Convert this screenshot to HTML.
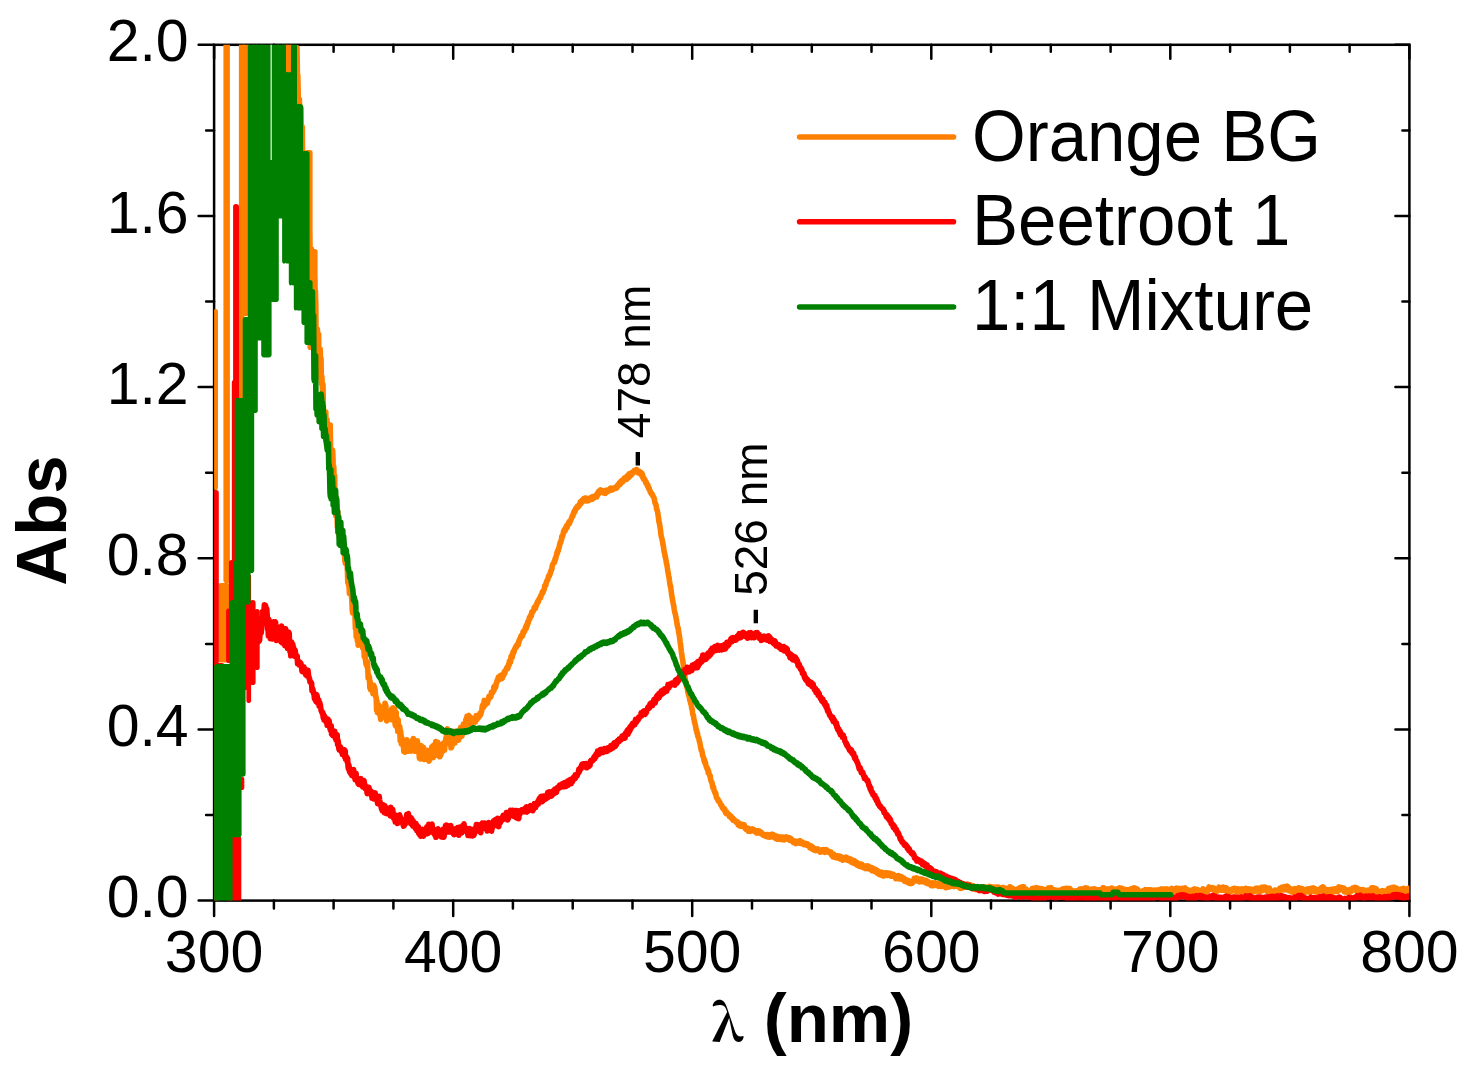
<!DOCTYPE html>
<html><head><meta charset="utf-8"><style>
html,body{margin:0;padding:0;background:#fff;width:1466px;height:1075px;overflow:hidden}
svg{display:block}
text{font-family:"Liberation Sans",Arial,sans-serif;fill:#000}
</style></head><body>
<svg width="1466" height="1075" viewBox="0 0 1466 1075">
<defs><clipPath id="pa"><rect x="214.1" y="44.8" width="1195.3" height="855.8"/></clipPath></defs>
<rect x="214.1" y="44.8" width="1195.3" height="855.8" fill="none" stroke="#000" stroke-width="2.5"/><path d="M214.1,900.6V916.1M214.1,44.8V58.8M273.9,900.6V908.6M273.9,44.8V51.8M333.6,900.6V908.6M333.6,44.8V51.8M393.4,900.6V908.6M393.4,44.8V51.8M453.2,900.6V916.1M453.2,44.8V58.8M512.9,900.6V908.6M512.9,44.8V51.8M572.7,900.6V908.6M572.7,44.8V51.8M632.5,900.6V908.6M632.5,44.8V51.8M692.2,900.6V916.1M692.2,44.8V58.8M752.0,900.6V908.6M752.0,44.8V51.8M811.8,900.6V908.6M811.8,44.8V51.8M871.5,900.6V908.6M871.5,44.8V51.8M931.3,900.6V916.1M931.3,44.8V58.8M991.0,900.6V908.6M991.0,44.8V51.8M1050.8,900.6V908.6M1050.8,44.8V51.8M1110.6,900.6V908.6M1110.6,44.8V51.8M1170.3,900.6V916.1M1170.3,44.8V58.8M1230.1,900.6V908.6M1230.1,44.8V51.8M1289.9,900.6V908.6M1289.9,44.8V51.8M1349.6,900.6V908.6M1349.6,44.8V51.8M1409.4,900.6V916.1M1409.4,44.8V58.8M214.1,900.6H198.6M1409.4,900.6H1395.4M214.1,815.0H206.1M1409.4,815.0H1402.4M214.1,729.4H198.6M1409.4,729.4H1395.4M214.1,643.9H206.1M1409.4,643.9H1402.4M214.1,558.3H198.6M1409.4,558.3H1395.4M214.1,472.7H206.1M1409.4,472.7H1402.4M214.1,387.1H198.6M1409.4,387.1H1395.4M214.1,301.5H206.1M1409.4,301.5H1402.4M214.1,216.0H198.6M1409.4,216.0H1395.4M214.1,130.4H206.1M1409.4,130.4H1402.4M214.1,44.8H198.6M1409.4,44.8H1395.4" stroke="#000" stroke-width="2.5" stroke-linecap="round" fill="none"/>
<g clip-path="url(#pa)" fill="none" stroke-width="5.6" stroke-linejoin="round" stroke-linecap="round">
<rect x="213.1" y="309.0" width="4.9" height="181.0" rx="2.8" fill="#FF8000" stroke="none"/><rect x="223.4" y="30.0" width="6.5" height="553.0" rx="2.8" fill="#FF8000" stroke="none"/><rect x="218.4" y="583.0" width="11.5" height="79.5" rx="2.8" fill="#FF8000" stroke="none"/><rect x="238.9" y="30.0" width="5.7" height="405.0" rx="2.8" fill="#FF8000" stroke="none"/><rect x="242.9" y="30.0" width="6.3" height="286.0" rx="2.8" fill="#FF8000" stroke="none"/><rect x="284.3" y="30.0" width="7.9" height="48.0" rx="2.8" fill="#FF8000" stroke="none"/><rect x="296.4" y="100.0" width="4.7" height="29.0" rx="2.8" fill="#FF8000" stroke="none"/><rect x="299.4" y="125.0" width="5.7" height="49.0" rx="2.8" fill="#FF8000" stroke="none"/><rect x="304.4" y="150.0" width="8.2" height="110.0" rx="2.8" fill="#FF8000" stroke="none"/><rect x="307.4" y="249.0" width="10.2" height="101.0" rx="2.8" fill="#FF8000" stroke="none"/>
<path d="M297.0 47.8 297.4 73.5 297.8 75.4 298.2 93.4 298.6 117.8 299.0 113.5 299.4 99.3 299.8 118.2 300.2 116.2 300.6 142.2 301.0 108.3 301.4 145.6 301.8 125.6 302.2 128.8 302.6 168.0 303.0 162.2 303.4 156.2 303.8 156.7 304.2 190.4 304.6 196.7 305.0 181.5 305.4 203.5 305.8 166.4 306.2 211.9 306.6 172.1 307.0 187.8 307.4 214.3 307.8 234.8 308.2 199.7 308.6 225.7 309.0 256.9 309.4 234.5 309.8 260.1 310.2 262.7 310.6 250.9 311.0 273.2 311.4 249.0 311.8 264.7 312.2 290.1 312.6 271.9 313.0 297.2 313.4 278.2 313.8 282.1 314.2 277.9 314.6 279.9 315.0 315.1 315.4 291.0 315.8 305.0 316.2 347.7 316.6 329.7 317.0 355.9 317.4 329.3 317.8 342.5 318.2 363.4 318.6 334.3 319.0 363.0 319.4 377.1 319.8 375.6 320.2 349.0 320.6 361.1 321.0 358.0 321.4 383.6 321.8 375.8 322.2 385.2 322.6 393.7 323.0 384.5 323.4 413.5 323.8 424.5 324.2 430.1 324.6 422.4 325.0 413.6 325.4 412.7 325.8 411.9 326.2 442.7 326.6 445.6 327.0 419.8 327.4 442.4 327.8 428.5 328.2 424.7 328.6 436.8 329.0 445.7 329.4 442.9 329.8 434.8 330.2 425.0 330.6 450.8 331.0 461.7 331.4 457.6 331.8 466.7 332.2 454.9 332.6 450.1 333.0 458.3 333.4 485.4 333.8 466.8 334.2 492.8 334.6 475.5 335.0 501.2 335.4 493.6 335.8 515.8 336.2 511.1 336.6 510.5 337.0 513.4 337.4 526.9 337.8 511.7 338.2 523.9 338.6 533.9 339.0 534.1 339.4 536.7 339.8 533.5 340.2 542.7 340.6 528.0 341.0 543.6 341.4 545.2 341.8 535.3 342.2 537.4 342.6 537.0 343.0 540.0 343.4 546.7 343.8 544.5 344.2 549.3 344.6 556.6 345.0 561.4 345.4 563.3 345.8 560.2 346.2 558.8 346.6 562.2 347.0 563.7 347.4 570.6 347.8 582.5 348.2 571.6 348.6 584.8 349.0 584.3 349.4 593.5 349.8 591.5 350.2 590.2 350.6 590.6 351.0 592.4 351.4 595.8 351.8 599.1 352.2 609.2 352.6 612.9 353.0 601.4 353.4 601.5 353.8 610.0 354.2 612.1 354.6 613.8 355.0 616.1 355.4 628.3 355.8 621.7 356.2 636.6 356.6 634.1 357.0 632.3 357.4 640.9 357.8 636.8 358.2 645.2 358.6 634.5 359.0 641.8 359.4 644.1 359.8 637.2 360.2 634.2 360.6 628.3 361.0 642.9 361.4 629.1 361.8 633.5 362.2 643.7 362.6 647.8 363.0 648.4 363.4 637.8 363.8 639.9 364.2 656.8 364.6 657.2 365.0 654.2 365.4 658.6 365.8 662.5 366.2 664.9 366.6 663.4 367.0 666.6 367.4 661.7 367.8 669.0 368.2 678.1 368.6 674.8 369.0 676.6 369.4 676.9 369.8 687.7 370.2 681.4 370.6 689.7 371.0 686.1 371.4 686.3 371.8 688.3 372.2 691.2 372.6 685.3 373.0 693.7 373.4 686.7 373.8 685.3 374.2 693.1 374.6 687.0 375.0 689.3 375.4 693.6 375.8 697.1 376.2 697.2 376.6 710.2 377.0 700.9 377.4 712.5 377.8 711.5 378.2 707.9 378.6 704.8 379.0 706.4 379.4 714.2 379.8 713.0 380.2 713.7 380.6 719.4 381.0 717.4 381.4 715.3 381.8 715.9 382.2 714.1 382.6 707.1 383.0 710.3 383.4 715.1 383.8 714.5 384.2 716.8 384.6 715.2 385.0 703.2 385.4 712.2 385.8 705.0 386.2 717.6 386.6 721.0 387.0 716.2 387.4 713.6 387.8 715.6 388.2 710.9 388.6 715.5 389.0 718.6 389.4 717.6 389.8 717.0 390.2 711.2 390.6 714.3 391.0 710.8 391.4 719.6 391.8 708.7 392.2 713.2 392.6 713.3 393.0 707.8 393.4 719.1 393.8 711.2 394.2 718.2 394.6 709.1 395.0 723.5 395.4 725.3 395.8 726.2 396.2 712.6 396.6 726.3 397.0 726.3 397.4 718.9 397.8 731.5 398.2 720.0 398.6 731.3 399.0 729.7 399.4 733.0 399.8 726.5 400.2 740.6 400.6 730.7 401.0 734.8 401.4 743.8 401.8 737.5 402.2 739.6 402.6 739.9 403.0 743.2 403.4 745.4 403.8 751.2 404.2 749.1 404.6 745.3 405.0 752.2 405.4 743.1 405.8 744.1 406.2 745.3 406.6 751.0 407.0 739.9 407.4 746.1 407.8 749.7 408.2 751.2 408.6 749.7 409.0 743.1 409.4 745.4 409.8 743.3 410.2 743.1 410.6 746.2 411.0 751.1 411.4 750.4 411.8 745.6 412.2 740.6 412.6 743.6 413.0 750.8 413.4 738.6 413.8 739.8 414.2 749.5 414.6 744.7 415.0 745.3 415.4 751.2 415.8 750.3 416.2 743.3 416.6 743.3 417.0 749.5 417.4 740.8 417.8 749.1 418.2 752.1 418.6 746.4 419.0 753.0 419.4 758.2 419.8 756.1 420.2 754.4 420.6 758.9 421.0 747.5 421.4 745.7 421.8 756.7 422.2 752.0 422.6 749.7 423.0 758.9 423.4 747.2 423.8 752.3 424.2 751.4 424.6 759.5 425.0 752.1 425.4 753.1 425.8 750.1 426.2 752.9 426.6 755.8 427.0 758.3 427.4 750.8 427.8 750.6 428.2 755.6 428.6 759.8 429.0 761.1 429.4 759.7 429.8 757.8 430.2 756.2 430.6 753.1 431.0 749.9 431.4 751.0 431.8 746.7 432.2 754.7 432.6 746.2 433.0 757.8 433.4 756.0 433.8 745.0 434.2 756.1 434.6 747.0 435.0 755.4 435.4 755.4 435.8 741.5 436.2 753.1 436.6 754.8 437.0 753.7 437.4 747.2 437.8 742.4 438.2 750.3 438.6 752.2 439.0 753.4 439.4 748.4 439.8 756.8 440.2 747.7 440.6 755.4 441.0 754.4 441.4 749.0 441.8 744.9 442.2 751.8 442.6 744.3 443.0 747.7 443.4 743.0 443.8 744.0 444.2 744.0 444.6 750.2 445.0 742.3 445.4 742.7 445.8 738.8 446.2 737.0 446.6 738.9 447.0 735.7 447.4 728.7 447.8 738.7 448.2 740.8 448.6 734.6 449.0 736.1 449.4 733.8 449.8 733.6 450.2 744.3 450.6 735.1 451.0 747.8 451.4 735.6 451.8 746.8 452.2 741.6 452.6 735.1 453.0 734.2 453.4 731.3 453.8 739.9 454.2 739.1 454.6 739.1 455.0 742.9 455.4 731.2 455.8 738.5 456.2 735.2 456.6 735.9 457.0 735.0 457.4 736.5 457.8 738.4 458.2 734.1 458.6 740.2 459.0 738.2 459.4 734.6 459.8 737.5 460.2 730.7 460.6 727.6 461.0 729.5 461.4 735.5 461.8 736.1 462.2 735.1 462.6 732.5 463.0 726.7 463.4 724.2 463.8 731.0 464.2 728.9 464.6 730.3 465.0 729.3 465.4 727.9 465.8 719.9 466.2 726.1 466.6 718.3 467.0 716.3 467.4 716.7 467.8 720.1 468.2 718.7 468.6 716.5 469.0 715.5 469.4 718.9 469.8 719.6 470.2 716.9 470.6 723.3 471.0 724.4 471.4 720.4 471.8 724.0 472.2 718.4 472.6 720.5 473.0 721.5 473.4 720.2 473.8 718.6 474.2 721.9 474.6 718.3 475.0 718.7 475.4 722.1 475.8 717.6 476.2 715.7 476.6 718.6 477.0 719.6 477.4 718.3 477.8 718.2 478.2 715.2 478.6 717.5 479.0 717.1 479.4 716.3 479.8 713.8 480.2 713.0 480.6 715.0 481.0 713.2 481.4 712.0 481.8 710.8 482.2 706.6 482.6 705.2 483.0 706.9 483.4 707.5 483.8 706.1 484.2 700.4 484.6 705.8 485.0 705.2 485.4 704.6 485.8 701.6 486.2 701.3 486.6 701.0 487.0 703.3 487.4 703.3 487.8 700.6 488.2 700.6 488.6 698.5 489.0 696.3 489.4 698.1 489.8 697.5 490.2 697.2 490.6 697.2 491.0 695.6 491.4 692.4 491.8 693.9 492.2 692.1 492.6 692.9 493.0 691.3 493.4 691.4 493.8 687.0 494.2 689.9 494.6 686.1 495.0 686.3 495.4 687.5 495.8 686.8 496.2 683.3 496.6 683.3 497.0 680.8 497.4 679.9 497.8 679.7 498.2 677.4 498.6 680.1 499.0 677.5 499.4 678.0 499.8 676.2 500.2 679.2 500.6 675.4 501.0 676.3 501.4 675.4 501.8 676.6 502.2 678.4 502.6 674.6 503.0 676.2 503.4 675.8 503.8 674.9 504.2 671.9 504.6 673.6 505.0 672.7 505.4 670.7 505.8 670.0 506.2 668.9 506.6 668.8 507.0 667.3 507.4 668.7 507.8 668.5 508.2 666.1 508.6 664.2 509.0 665.3 509.4 661.0 509.8 663.4 510.2 661.1 510.6 662.1 511.0 656.7 511.4 656.0 511.8 655.3 512.2 657.5 512.6 654.6 513.0 651.9 513.4 653.3 513.8 652.4 514.2 651.2 514.6 649.2 515.0 648.3 515.4 647.9 515.8 646.7 516.2 647.5 516.6 645.5 517.0 644.7 517.4 644.9 517.8 644.2 518.2 644.8 518.6 641.7 519.0 642.0 519.4 639.6 519.8 639.3 520.2 638.9 520.6 637.1 521.0 635.8 521.4 637.0 521.8 635.6 522.2 635.2 522.6 635.8 523.0 631.7 523.4 633.6 523.8 630.9 524.2 631.8 524.6 631.5 525.0 629.9 525.4 628.0 525.8 626.6 526.2 628.6 526.6 625.2 527.0 624.1 527.4 625.4 527.8 621.5 528.2 623.1 528.6 621.0 529.0 619.9 529.4 617.6 529.8 618.9 530.2 616.8 530.6 615.4 531.0 616.6 531.4 615.8 531.8 611.8 532.2 611.9 532.6 612.2 533.0 611.1 533.4 610.9 533.8 609.5 534.2 607.6 534.6 607.1 535.0 607.9 535.4 608.5 535.8 606.5 536.2 604.5 536.6 605.4 537.0 604.3 537.4 601.9 537.8 601.2 538.2 602.0 538.6 600.8 539.0 599.3 539.4 598.4 539.8 598.1 540.2 597.0 540.6 597.9 541.0 595.3 541.4 594.8 541.8 594.7 542.2 592.0 542.6 593.2 543.0 592.4 543.4 591.2 543.8 590.0 544.2 589.5 544.6 586.4 545.0 585.1 545.4 585.0 545.8 585.2 546.2 582.7 546.6 581.6 547.0 580.6 547.4 579.9 547.8 579.7 548.2 577.7 548.6 575.9 549.0 575.6 549.4 576.1 549.8 574.0 550.2 573.9 550.6 571.6 551.0 571.4 551.4 569.6 551.8 569.4 552.2 565.9 552.6 564.8 553.0 564.0 553.4 563.5 553.8 562.4 554.2 561.8 554.6 562.3 555.0 558.7 555.4 559.4 555.8 558.4 556.2 555.8 556.6 555.0 557.0 552.4 557.4 553.3 557.8 550.5 558.2 551.1 558.6 548.3 559.0 548.3 559.4 545.7 559.8 544.8 560.2 542.2 560.6 542.9 561.0 540.8 561.4 540.2 561.8 536.4 562.2 537.2 562.6 536.1 563.0 534.8 563.4 532.2 563.8 530.6 564.2 532.2 564.6 529.5 565.0 530.2 565.4 530.3 565.8 527.3 566.2 527.9 566.6 525.7 567.0 527.8 567.4 526.4 567.8 525.4 568.2 523.4 568.6 524.0 569.0 521.9 569.4 523.8 569.8 521.7 570.2 521.3 570.6 520.5 571.0 519.7 571.4 518.1 571.8 517.9 572.2 516.2 572.6 516.6 573.0 515.4 573.4 513.2 573.8 513.5 574.2 511.0 574.6 511.0 575.0 511.7 575.4 509.7 575.8 508.2 576.2 507.7 576.6 508.3 577.0 507.4 577.4 506.2 577.8 506.3 578.2 507.1 578.6 505.9 579.0 506.1 579.4 505.1 579.8 504.2 580.2 502.1 580.6 503.1 581.0 503.7 581.4 501.9 581.8 500.4 582.2 500.4 582.6 501.3 583.0 499.7 583.4 501.3 583.8 498.6 584.2 498.6 584.6 498.3 585.0 499.6 585.4 499.2 585.8 498.2 586.2 499.0 586.6 500.9 587.0 498.3 587.4 498.5 587.8 499.8 588.2 500.1 588.6 500.5 589.0 499.5 589.4 499.2 589.8 498.6 590.2 499.9 590.6 497.9 591.0 498.5 591.4 499.1 591.8 497.1 592.2 498.1 592.6 499.1 593.0 496.6 593.4 498.6 593.8 497.2 594.2 497.1 594.6 497.5 595.0 496.7 595.4 496.2 595.8 496.1 596.2 494.9 596.6 497.0 597.0 496.3 597.4 494.3 597.8 492.7 598.2 493.5 598.6 493.9 599.0 491.0 599.4 492.9 599.8 491.4 600.2 491.1 600.6 489.9 601.0 491.7 601.4 491.4 601.8 490.6 602.2 490.7 602.6 491.3 603.0 492.4 603.4 491.9 603.8 492.9 604.2 492.2 604.6 490.5 605.0 490.9 605.4 493.5 605.8 492.9 606.2 490.3 606.6 490.8 607.0 491.9 607.4 491.4 607.8 490.0 608.2 490.6 608.6 490.8 609.0 490.9 609.4 489.5 609.8 490.0 610.2 488.3 610.6 490.1 611.0 488.1 611.4 489.9 611.8 490.1 612.2 488.5 612.6 489.7 613.0 488.9 613.4 489.0 613.8 489.0 614.2 488.7 614.6 487.7 615.0 487.8 615.4 487.5 615.8 488.4 616.2 487.1 616.6 487.5 617.0 487.7 617.4 486.4 617.8 484.8 618.2 485.6 618.6 484.5 619.0 484.3 619.4 482.8 619.8 484.7 620.2 483.0 620.6 481.7 621.0 483.4 621.4 482.5 621.8 480.5 622.2 481.9 622.6 481.4 623.0 481.6 623.4 479.5 623.8 479.1 624.2 478.1 624.6 478.5 625.0 478.7 625.4 478.1 625.8 478.7 626.2 479.1 626.6 479.4 627.0 476.1 627.4 476.7 627.8 476.0 628.2 476.7 628.6 477.6 629.0 473.8 629.4 476.8 629.8 473.8 630.2 474.8 630.6 473.9 631.0 475.3 631.4 472.7 631.8 473.0 632.2 474.1 632.6 472.4 633.0 471.9 633.4 471.7 633.8 471.0 634.2 470.6 634.6 471.7 635.0 471.4 635.4 470.2 635.8 471.6 636.2 471.8 636.6 469.6 637.0 470.8 637.4 472.1 637.8 471.3 638.2 472.9 638.6 472.8 639.0 471.8 639.4 471.4 639.8 472.4 640.2 472.7 640.6 472.2 641.0 474.6 641.4 473.2 641.8 473.2 642.2 476.6 642.6 474.6 643.0 477.3 643.4 478.9 643.8 478.6 644.2 479.2 644.6 479.1 645.0 480.7 645.4 480.8 645.8 482.9 646.2 482.0 646.6 483.4 647.0 484.0 647.4 485.9 647.8 484.8 648.2 486.5 648.6 488.5 649.0 487.7 649.4 489.2 649.8 490.3 650.2 491.7 650.6 492.7 651.0 492.6 651.4 494.0 651.8 494.1 652.2 494.2 652.6 494.9 653.0 496.3 653.4 496.7 653.8 497.5 654.2 498.7 654.6 500.6 655.0 503.1 655.4 503.2 655.8 504.7 656.2 505.5 656.6 509.2 657.0 509.8 657.4 511.2 657.8 512.9 658.2 516.0 658.6 518.7 659.0 522.1 659.4 522.7 659.8 526.0 660.2 528.0 660.6 531.1 661.0 535.0 661.4 536.9 661.8 538.3 662.2 539.9 662.6 542.0 663.0 544.6 663.4 546.2 663.8 549.3 664.2 552.0 664.6 553.2 665.0 555.3 665.4 557.7 665.8 559.1 666.2 561.4 666.6 564.2 667.0 565.0 667.4 568.2 667.8 570.9 668.2 573.0 668.6 575.7 669.0 577.0 669.4 580.4 669.8 583.1 670.2 585.7 670.6 586.3 671.0 589.5 671.4 592.6 671.8 596.0 672.2 597.7 672.6 600.7 673.0 602.5 673.4 604.3 673.8 606.3 674.2 609.2 674.6 611.3 675.0 613.1 675.4 614.3 675.8 616.5 676.2 618.9 676.6 620.6 677.0 623.8 677.4 625.7 677.8 627.7 678.2 628.2 678.6 631.6 679.0 633.6 679.4 636.1 679.8 638.9 680.2 642.1 680.6 644.8 681.0 648.1 681.4 652.1 681.8 654.5 682.2 657.8 682.6 659.5 683.0 662.7 683.4 665.5 683.8 668.7 684.2 672.1 684.6 673.9 685.0 677.5 685.4 681.1 685.8 681.4 686.2 683.9 686.6 686.8 687.0 687.0 687.4 688.4 687.8 692.0 688.2 692.7 688.6 695.3 689.0 695.9 689.4 696.9 689.8 700.3 690.2 700.4 690.6 703.1 691.0 704.3 691.4 705.5 691.8 708.8 692.2 709.0 692.6 712.9 693.0 715.0 693.4 715.2 693.8 718.8 694.2 720.1 694.6 722.5 695.0 723.3 695.4 725.7 695.8 727.6 696.2 730.3 696.6 730.0 697.0 733.4 697.4 732.9 697.8 736.1 698.2 737.0 698.6 738.0 699.0 739.1 699.4 741.6 699.8 742.5 700.2 744.6 700.6 747.1 701.0 749.3 701.4 750.7 701.8 750.2 702.2 752.6 702.6 755.5 703.0 756.2 703.4 757.4 703.8 758.8 704.2 761.2 704.6 760.1 705.0 763.3 705.4 762.4 705.8 765.0 706.2 766.4 706.6 766.7 707.0 768.8 707.4 768.4 707.8 769.1 708.2 772.6 708.6 771.3 709.0 773.9 709.4 774.6 709.8 776.0 710.2 775.7 710.6 779.4 711.0 780.6 711.4 781.7 711.8 782.0 712.2 783.6 712.6 786.3 713.0 788.0 713.4 786.8 713.8 789.0 714.2 791.0 714.6 791.3 715.0 793.1 715.4 793.2 715.8 793.3 716.2 796.7 716.6 797.7 717.0 798.5 717.4 798.7 717.8 798.9 718.2 800.9 718.6 800.6 719.0 800.9 719.4 802.0 719.8 802.0 720.2 803.3 720.6 804.5 721.0 805.2 721.4 805.7 721.8 805.4 722.2 807.6 722.6 807.5 723.0 808.5 723.4 808.0 723.8 808.1 724.2 809.9 724.6 808.9 725.0 810.2 725.4 812.5 725.8 811.3 726.2 813.5 726.6 811.7 727.0 814.0 727.4 814.0 727.8 813.6 728.2 814.4 728.6 815.0 729.0 814.4 729.4 816.4 729.8 816.0 730.2 816.1 730.6 817.3 731.0 816.2 731.4 817.9 731.8 818.1 732.2 819.0 732.6 817.8 733.0 820.2 733.4 820.2 733.8 820.5 734.2 819.6 734.6 820.6 735.0 820.4 735.4 820.9 735.8 821.8 736.2 822.0 736.6 822.6 737.0 821.5 737.4 821.6 737.8 822.9 738.2 825.1 738.6 825.3 739.0 822.9 739.4 824.3 739.8 825.9 740.2 824.3 740.6 826.2 741.0 824.3 741.4 825.9 741.8 825.0 742.2 826.0 742.6 825.5 743.0 824.5 743.4 825.2 743.8 826.5 744.2 824.8 744.6 826.9 745.0 828.4 745.4 828.6 745.8 827.8 746.2 829.4 746.6 829.0 747.0 827.9 747.4 830.1 747.8 829.7 748.2 831.2 748.6 830.6 749.0 830.4 749.4 828.7 749.8 830.7 750.2 830.6 750.6 831.2 751.0 830.1 751.4 830.0 751.8 830.7 752.2 830.3 752.6 828.9 753.0 830.1 753.4 829.8 753.8 830.5 754.2 829.7 754.6 830.7 755.0 831.1 755.4 831.8 755.8 831.5 756.2 832.8 756.6 831.8 757.0 833.1 757.4 832.9 757.8 831.2 758.2 830.6 758.6 831.3 759.0 832.6 759.4 831.9 759.8 831.2 760.2 831.9 760.6 833.5 761.0 833.4 761.4 832.3 761.8 833.2 762.2 834.4 762.6 834.6 763.0 835.1 763.4 834.2 763.8 835.5 764.2 834.3 764.6 835.7 765.0 836.0 765.4 835.5 765.8 835.2 766.2 836.2 766.6 836.5 767.0 834.6 767.4 836.8 767.8 835.2 768.2 835.3 768.6 835.3 769.0 834.9 769.4 837.2 769.8 836.9 770.2 836.5 770.6 836.5 771.0 835.1 771.4 836.7 771.8 834.3 772.2 836.9 772.6 834.9 773.0 834.4 773.4 837.1 773.8 837.1 774.2 835.2 774.6 835.6 775.0 835.6 775.4 838.4 775.8 837.5 776.2 838.3 776.6 837.3 777.0 839.1 777.4 837.0 777.8 836.4 778.2 837.9 778.6 839.1 779.0 838.4 779.4 838.7 779.8 837.7 780.2 838.2 780.6 837.1 781.0 839.4 781.4 837.1 781.8 837.4 782.2 837.7 782.6 839.6 783.0 838.2 783.4 837.8 783.8 837.3 784.2 839.9 784.6 839.8 785.0 837.4 785.4 839.3 785.8 838.1 786.2 836.9 786.6 838.7 787.0 837.3 787.4 837.5 787.8 837.8 788.2 837.5 788.6 837.5 789.0 839.8 789.4 839.3 789.8 840.3 790.2 838.0 790.6 840.3 791.0 838.8 791.4 840.3 791.8 839.4 792.2 839.9 792.6 840.5 793.0 842.2 793.4 841.0 793.8 841.8 794.2 842.9 794.6 841.0 795.0 841.1 795.4 843.0 795.8 843.5 796.2 843.0 796.6 841.6 797.0 843.1 797.4 842.9 797.8 841.4 798.2 841.7 798.6 843.0 799.0 842.0 799.4 841.5 799.8 842.8 800.2 840.7 800.6 843.5 801.0 841.6 801.4 843.3 801.8 842.9 802.2 842.1 802.6 842.2 803.0 843.2 803.4 843.4 803.8 844.7 804.2 844.6 804.6 843.5 805.0 843.5 805.4 843.6 805.8 844.9 806.2 843.5 806.6 845.1 807.0 844.1 807.4 843.9 807.8 844.4 808.2 845.5 808.6 846.1 809.0 844.9 809.4 845.6 809.8 847.8 810.2 846.1 810.6 847.3 811.0 848.0 811.4 846.0 811.8 847.2 812.2 848.8 812.6 846.9 813.0 849.7 813.4 848.3 813.8 848.3 814.2 850.2 814.6 848.6 815.0 849.0 815.4 849.7 815.8 850.6 816.2 849.3 816.6 849.8 817.0 850.3 817.4 849.8 817.8 848.9 818.2 849.6 818.6 850.0 819.0 850.1 819.4 850.4 819.8 849.9 820.2 852.2 820.6 851.4 821.0 850.8 821.4 851.2 821.8 850.6 822.2 850.0 822.6 851.7 823.0 850.3 823.4 849.8 823.8 851.5 824.2 851.9 824.6 851.0 825.0 852.3 825.4 850.9 825.8 850.0 826.2 849.6 826.6 850.8 827.0 851.5 827.4 851.9 827.8 851.4 828.2 851.4 828.6 851.1 829.0 851.4 829.4 852.7 829.8 853.1 830.2 852.3 830.6 852.3 831.0 852.2 831.4 854.0 831.8 855.5 832.2 853.7 832.6 855.7 833.0 856.8 833.4 855.2 833.8 854.2 834.2 857.1 834.6 856.3 835.0 855.8 835.4 857.2 835.8 856.9 836.2 857.7 836.6 857.0 837.0 857.9 837.4 855.8 837.8 857.4 838.2 857.5 838.6 856.4 839.0 858.1 839.4 856.0 839.8 858.9 840.2 856.4 840.6 858.3 841.0 858.7 841.4 857.5 841.8 857.2 842.2 859.3 842.6 860.0 843.0 859.5 843.4 858.7 843.8 859.7 844.2 857.7 844.6 858.8 845.0 858.0 845.4 858.4 845.8 858.7 846.2 857.2 846.6 858.2 847.0 859.8 847.4 858.1 847.8 860.3 848.2 859.8 848.6 859.2 849.0 858.5 849.4 860.9 849.8 860.1 850.2 861.2 850.6 859.1 851.0 862.0 851.4 861.3 851.8 860.3 852.2 860.5 852.6 862.8 853.0 860.9 853.4 860.4 853.8 861.7 854.2 860.7 854.6 863.6 855.0 863.4 855.4 861.5 855.8 863.7 856.2 862.7 856.6 862.2 857.0 865.2 857.4 865.0 857.8 864.3 858.2 864.9 858.6 863.8 859.0 866.1 859.4 864.6 859.8 866.3 860.2 863.9 860.6 864.3 861.0 865.5 861.4 866.1 861.8 864.3 862.2 867.1 862.6 866.1 863.0 867.0 863.4 866.7 863.8 865.8 864.2 867.9 864.6 867.8 865.0 867.8 865.4 866.7 865.8 868.6 866.2 866.3 866.6 868.5 867.0 865.9 867.4 868.3 867.8 866.9 868.2 866.0 868.6 868.1 869.0 868.9 869.4 868.8 869.8 868.7 870.2 867.8 870.6 868.9 871.0 867.4 871.4 869.3 871.8 870.5 872.2 869.0 872.6 868.0 873.0 870.6 873.4 869.2 873.8 870.5 874.2 871.4 874.6 869.1 875.0 870.0 875.4 871.7 875.8 869.4 876.2 870.6 876.6 870.4 877.0 873.2 877.4 870.6 877.8 871.6 878.2 873.7 878.6 872.5 879.0 871.9 879.4 874.7 879.8 873.5 880.2 873.5 880.6 873.7 881.0 873.0 881.4 872.1 881.8 875.4 882.2 872.5 882.6 875.2 883.0 875.8 883.4 872.8 883.8 875.9 884.2 873.1 884.6 872.9 885.0 873.8 885.4 873.9 885.8 873.6 886.2 872.9 886.6 872.8 887.0 875.4 887.4 874.3 887.8 875.3 888.2 873.3 888.6 873.1 889.0 874.2 889.4 874.3 889.8 874.6 890.2 873.5 890.6 874.5 891.0 876.2 891.4 876.0 891.8 875.1 892.2 875.9 892.6 874.7 893.0 874.1 893.4 876.3 893.8 875.7 894.2 876.0 894.6 876.6 895.0 875.5 895.4 877.3 895.8 878.7 896.2 877.2 896.6 877.2 897.0 877.5 897.4 876.7 897.8 877.2 898.2 878.7 898.6 875.6 899.0 878.4 899.4 878.8 899.8 878.1 900.2 876.8 900.6 876.9 901.0 877.9 901.4 877.2 901.8 877.0 902.2 879.6 902.6 878.5 903.0 878.8 903.4 878.9 903.8 878.1 904.2 880.5 904.6 881.2 905.0 879.4 905.4 881.4 905.8 880.9 906.2 879.7 906.6 880.0 907.0 880.2 907.4 882.3 907.8 881.4 908.2 882.4 908.6 880.6 909.0 883.3 909.4 881.4 909.8 882.2 910.2 882.8 910.6 883.6 911.0 883.3 911.4 882.1 911.8 883.3 912.2 883.2 912.6 882.2 913.0 881.2 913.4 881.7 913.8 879.7 914.2 878.3 914.6 879.2 915.0 879.9 915.4 880.9 915.8 878.1 916.2 878.7 916.6 879.0 917.0 878.0 917.4 880.8 917.8 881.0 918.2 879.8 918.6 879.7 919.0 881.6 919.4 880.6 919.8 881.9 920.2 879.0 920.6 880.2 921.0 881.4 921.4 880.7 921.8 879.1 922.2 879.9 922.6 879.5 923.0 880.5 923.4 881.4 923.8 881.9 924.2 880.8 924.6 880.2 925.0 882.2 925.4 880.6 925.8 881.2 926.2 880.3 926.6 883.5 927.0 883.5 927.4 882.4 927.8 882.9 928.2 881.5 928.6 883.0 929.0 882.4 929.4 884.1 929.8 883.8 930.2 883.0 930.6 884.9 931.0 884.4 931.4 885.7 931.8 883.6 932.2 882.9 932.6 883.9 933.0 882.9 933.4 885.7 933.8 885.2 934.2 883.0 934.6 885.2 935.0 885.1 935.4 882.9 935.8 884.1 936.2 883.9 936.6 883.7 937.0 883.4 937.4 885.6 937.8 883.5 938.2 884.1 938.6 886.3 939.0 884.9 939.4 886.2 939.8 883.9 940.2 885.5 940.6 886.2 941.0 884.1 941.4 885.6 941.8 886.3 942.2 883.6 942.6 886.0 943.0 885.5 943.4 884.6 943.8 885.8 944.2 886.4 944.6 884.3 945.0 884.6 945.4 884.9 945.8 887.8 946.2 887.0 946.6 887.5 947.0 884.9 947.4 886.9 947.8 886.9 948.2 884.6 948.6 884.1 949.0 885.8 949.4 886.9 949.8 886.4 950.2 885.0 950.6 883.3 951.0 886.4 951.4 885.1 951.8 883.5 952.2 885.3 952.6 885.2 953.0 883.8 953.4 886.3 953.8 886.6 954.2 885.7 954.6 885.9 955.0 884.2 955.4 885.8 955.8 884.4 956.2 885.4 956.6 886.2 957.0 885.1 957.4 884.4 957.8 886.2 958.2 886.8 958.6 886.3 959.0 885.8 959.4 886.6 959.8 888.1 960.2 885.4 960.6 887.3 961.0 888.4 961.4 886.7 961.8 886.2 962.2 888.0 962.6 886.8 963.0 887.4 963.4 887.2 963.8 885.5 964.2 886.5 964.6 886.8 965.0 885.6 965.4 885.7 965.8 886.6 966.2 885.9 966.6 884.5 967.0 884.2 967.4 884.1 967.8 886.4 968.2 884.6 968.6 886.5 969.0 885.6 969.4 887.2 969.8 886.6 970.2 884.8 970.6 886.7 971.0 885.9 971.4 887.9 971.8 886.0 972.2 887.8 972.6 886.4 973.0 885.7 973.4 886.6 973.8 888.7 974.2 888.0 974.6 887.9 975.0 886.9 975.4 888.3 975.8 887.8 976.2 889.7 976.6 887.5 977.0 887.2 977.4 888.7 977.8 889.7 978.2 889.6 978.6 889.2 979.0 887.5 979.4 888.6 979.8 888.9 980.2 887.8 980.6 889.5 981.0 888.0 981.4 890.0 981.8 889.4 982.2 888.3 982.6 890.0 983.0 890.2 983.4 888.1 983.8 888.6 984.2 890.1 984.6 889.9 985.0 889.2 985.4 886.9 985.8 887.5 986.2 888.0 986.6 887.2 987.0 887.2 987.4 889.1 987.8 887.7 988.2 887.2 988.6 887.3 989.0 887.3 989.4 886.5 989.8 888.1 990.2 887.2 990.6 887.5 991.0 888.9 991.4 889.9 991.8 886.8 992.2 889.6 992.6 887.4 993.0 888.9 993.4 888.0 993.8 887.7 994.2 888.1 994.6 890.2 995.0 887.3 995.4 888.9 995.8 887.3 996.2 889.3 996.6 888.6 997.0 887.1 997.4 887.1 997.8 888.2 998.2 888.5 998.6 887.2 999.0 889.5 999.4 889.1 999.8 887.8 1000.2 889.8 1000.6 888.4 1001.0 888.4 1001.4 888.4 1001.8 890.1 1002.2 889.7 1002.6 887.6 1003.0 887.4 1003.4 888.1 1003.8 888.6 1004.2 887.9 1004.6 888.6 1005.0 890.9 1005.4 890.5 1005.8 889.8 1006.2 888.2 1006.6 888.2 1007.0 890.9 1007.4 890.7 1007.8 890.0 1008.2 890.1 1008.6 890.0 1009.0 888.5 1009.4 888.6 1009.8 886.9 1010.2 886.9 1010.6 888.8 1011.0 888.8 1011.4 889.4 1011.8 890.3 1012.2 888.1 1012.6 888.2 1013.0 889.1 1013.4 889.0 1013.8 891.5 1014.2 890.6 1014.6 891.9 1015.0 891.0 1015.4 892.3 1015.8 890.4 1016.2 891.0 1016.6 890.3 1017.0 889.9 1017.4 889.0 1017.8 889.1 1018.2 890.2 1018.6 890.3 1019.0 888.3 1019.4 888.2 1019.8 889.3 1020.2 887.7 1020.6 889.3 1021.0 887.7 1021.4 887.3 1021.8 887.9 1022.2 887.5 1022.6 889.4 1023.0 886.8 1023.4 887.2 1023.8 887.0 1024.2 889.0 1024.6 888.3 1025.0 888.9 1025.4 889.3 1025.8 889.5 1026.2 889.1 1026.6 891.1 1027.0 891.9 1027.4 892.6 1027.8 892.2 1028.2 890.9 1028.6 891.0 1029.0 892.3 1029.4 891.6 1029.8 892.0 1030.2 891.7 1030.6 890.8 1031.0 891.0 1031.4 891.3 1031.8 891.6 1032.2 888.5 1032.6 890.6 1033.0 888.3 1033.4 890.0 1033.8 891.2 1034.2 889.3 1034.6 889.8 1035.0 888.7 1035.4 890.2 1035.8 888.8 1036.2 887.7 1036.6 888.1 1037.0 889.1 1037.4 888.1 1037.8 888.1 1038.2 888.8 1038.6 890.1 1039.0 889.7 1039.4 888.5 1039.8 890.9 1040.2 889.0 1040.6 891.1 1041.0 889.0 1041.4 888.7 1041.8 890.5 1042.2 892.2 1042.6 892.1 1043.0 891.1 1043.4 889.2 1043.8 890.6 1044.2 890.6 1044.6 892.1 1045.0 890.9 1045.4 890.0 1045.8 891.9 1046.2 890.0 1046.6 890.2 1047.0 890.0 1047.4 889.1 1047.8 889.3 1048.2 888.0 1048.6 888.2 1049.0 888.0 1049.4 889.9 1049.8 890.0 1050.2 888.1 1050.6 888.4 1051.0 887.6 1051.4 889.0 1051.8 890.1 1052.2 890.0 1052.6 891.0 1053.0 890.4 1053.4 890.2 1053.8 891.1 1054.2 891.0 1054.6 889.9 1055.0 892.6 1055.4 893.2 1055.8 892.9 1056.2 893.5 1056.6 890.4 1057.0 891.3 1057.4 893.6 1057.8 893.2 1058.2 893.6 1058.6 893.6 1059.0 893.2 1059.4 890.2 1059.8 890.9 1060.2 891.7 1060.6 892.7 1061.0 890.8 1061.4 890.5 1061.8 891.4 1062.2 889.3 1062.6 889.0 1063.0 889.5 1063.4 889.5 1063.8 889.9 1064.2 889.9 1064.6 889.8 1065.0 888.5 1065.4 889.7 1065.8 889.7 1066.2 888.8 1066.6 890.2 1067.0 888.3 1067.4 889.6 1067.8 890.6 1068.2 888.5 1068.6 889.4 1069.0 889.9 1069.4 890.5 1069.8 888.6 1070.2 891.3 1070.6 892.8 1071.0 891.5 1071.4 890.0 1071.8 891.4 1072.2 890.6 1072.6 892.7 1073.0 893.0 1073.4 893.5 1073.8 892.4 1074.2 892.6 1074.6 891.4 1075.0 891.1 1075.4 892.8 1075.8 890.7 1076.2 890.7 1076.6 892.1 1077.0 893.8 1077.4 892.4 1077.8 891.9 1078.2 893.3 1078.6 891.4 1079.0 890.3 1079.4 889.3 1079.8 891.2 1080.2 889.0 1080.6 889.8 1081.0 890.1 1081.4 889.0 1081.8 891.1 1082.2 890.8 1082.6 889.1 1083.0 890.4 1083.4 891.3 1083.8 891.0 1084.2 890.5 1084.6 890.2 1085.0 891.1 1085.4 887.9 1085.8 890.4 1086.2 891.0 1086.6 888.3 1087.0 888.2 1087.4 889.7 1087.8 891.6 1088.2 889.1 1088.6 891.4 1089.0 891.7 1089.4 892.0 1089.8 891.4 1090.2 892.0 1090.6 892.2 1091.0 889.4 1091.4 892.2 1091.8 889.1 1092.2 889.4 1092.6 890.5 1093.0 890.9 1093.4 890.2 1093.8 891.8 1094.2 888.8 1094.6 889.2 1095.0 890.0 1095.4 890.1 1095.8 889.3 1096.2 891.2 1096.6 891.4 1097.0 890.7 1097.4 891.4 1097.8 890.5 1098.2 891.5 1098.6 889.8 1099.0 891.5 1099.4 890.3 1099.8 889.7 1100.2 891.5 1100.6 890.5 1101.0 890.4 1101.4 890.6 1101.8 889.7 1102.2 890.4 1102.6 891.0 1103.0 887.8 1103.4 888.1 1103.8 887.9 1104.2 888.4 1104.6 891.2 1105.0 890.1 1105.4 889.1 1105.8 890.6 1106.2 890.1 1106.6 890.7 1107.0 889.6 1107.4 891.1 1107.8 888.9 1108.2 890.6 1108.6 889.4 1109.0 889.1 1109.4 889.8 1109.8 891.2 1110.2 891.5 1110.6 888.5 1111.0 888.8 1111.4 888.1 1111.8 889.3 1112.2 888.5 1112.6 888.3 1113.0 891.7 1113.4 891.3 1113.8 890.4 1114.2 891.1 1114.6 891.4 1115.0 892.1 1115.4 889.4 1115.8 889.4 1116.2 891.2 1116.6 890.6 1117.0 891.8 1117.4 888.9 1117.8 890.0 1118.2 889.9 1118.6 891.5 1119.0 890.2 1119.4 890.4 1119.8 887.9 1120.2 891.3 1120.6 891.1 1121.0 889.4 1121.4 889.8 1121.8 888.2 1122.2 889.7 1122.6 888.8 1123.0 889.7 1123.4 889.1 1123.8 892.1 1124.2 891.4 1124.6 889.4 1125.0 891.8 1125.4 889.9 1125.8 891.2 1126.2 889.7 1126.6 891.0 1127.0 891.5 1127.4 890.6 1127.8 889.8 1128.2 889.6 1128.6 892.0 1129.0 891.8 1129.4 892.0 1129.8 891.6 1130.2 890.5 1130.6 889.5 1131.0 889.2 1131.4 888.8 1131.8 891.7 1132.2 889.9 1132.6 891.0 1133.0 890.8 1133.4 888.8 1133.8 891.0 1134.2 887.7 1134.6 888.5 1135.0 888.1 1135.4 889.2 1135.8 890.4 1136.2 891.2 1136.6 891.8 1137.0 889.7 1137.4 889.2 1137.8 890.5 1138.2 891.9 1138.6 890.9 1139.0 893.0 1139.4 892.8 1139.8 893.6 1140.2 891.3 1140.6 893.7 1141.0 892.4 1141.4 892.8 1141.8 894.7 1142.2 892.1 1142.6 892.7 1143.0 893.7 1143.4 890.7 1143.8 890.4 1144.2 891.6 1144.6 892.5 1145.0 890.8 1145.4 889.7 1145.8 890.2 1146.2 890.9 1146.6 890.0 1147.0 890.5 1147.4 891.2 1147.8 890.1 1148.2 890.4 1148.6 891.6 1149.0 889.8 1149.4 891.3 1149.8 892.8 1150.2 890.3 1150.6 890.9 1151.0 889.8 1151.4 890.0 1151.8 892.8 1152.2 892.8 1152.6 892.9 1153.0 892.4 1153.4 893.3 1153.8 891.9 1154.2 891.4 1154.6 890.0 1155.0 891.6 1155.4 891.7 1155.8 890.3 1156.2 891.3 1156.6 892.6 1157.0 890.3 1157.4 890.8 1157.8 890.9 1158.2 890.0 1158.6 892.8 1159.0 891.4 1159.4 889.7 1159.8 889.6 1160.2 890.5 1160.6 889.3 1161.0 891.5 1161.4 891.2 1161.8 888.9 1162.2 891.9 1162.6 889.8 1163.0 891.5 1163.4 889.0 1163.8 889.3 1164.2 889.5 1164.6 889.1 1165.0 891.5 1165.4 890.6 1165.8 889.5 1166.2 892.5 1166.6 889.6 1167.0 889.0 1167.4 892.1 1167.8 892.0 1168.2 890.7 1168.6 890.2 1169.0 891.0 1169.4 889.7 1169.8 890.3 1170.2 892.1 1170.6 892.2 1171.0 890.4 1171.4 889.5 1171.8 888.3 1172.2 889.6 1172.6 891.4 1173.0 891.2 1173.4 891.7 1173.8 891.3 1174.2 889.4 1174.6 891.5 1175.0 889.6 1175.4 888.6 1175.8 889.5 1176.2 888.8 1176.6 888.2 1177.0 891.5 1177.4 890.0 1177.8 889.9 1178.2 890.2 1178.6 889.2 1179.0 888.3 1179.4 889.4 1179.8 889.1 1180.2 889.9 1180.6 890.3 1181.0 891.9 1181.4 891.7 1181.8 888.6 1182.2 891.5 1182.6 888.2 1183.0 891.7 1183.4 890.1 1183.8 888.9 1184.2 890.9 1184.6 888.3 1185.0 888.0 1185.4 890.7 1185.8 890.3 1186.2 890.6 1186.6 891.6 1187.0 889.2 1187.4 891.4 1187.8 891.0 1188.2 892.1 1188.6 890.2 1189.0 891.2 1189.4 890.9 1189.8 892.1 1190.2 890.8 1190.6 892.0 1191.0 893.0 1191.4 890.2 1191.8 893.2 1192.2 892.1 1192.6 890.1 1193.0 889.6 1193.4 890.2 1193.8 892.6 1194.2 890.7 1194.6 888.9 1195.0 891.6 1195.4 890.5 1195.8 889.4 1196.2 891.6 1196.6 892.0 1197.0 889.3 1197.4 890.1 1197.8 890.5 1198.2 889.9 1198.6 891.0 1199.0 890.4 1199.4 891.3 1199.8 892.6 1200.2 891.1 1200.6 892.1 1201.0 890.7 1201.4 892.0 1201.8 892.3 1202.2 890.2 1202.6 891.7 1203.0 888.8 1203.4 891.3 1203.8 891.6 1204.2 891.4 1204.6 890.1 1205.0 890.4 1205.4 890.3 1205.8 891.7 1206.2 890.3 1206.6 892.0 1207.0 891.4 1207.4 891.5 1207.8 889.8 1208.2 888.9 1208.6 887.8 1209.0 887.0 1209.4 888.3 1209.8 888.8 1210.2 889.1 1210.6 888.1 1211.0 888.9 1211.4 887.9 1211.8 888.4 1212.2 889.2 1212.6 887.6 1213.0 889.4 1213.4 890.0 1213.8 888.1 1214.2 890.0 1214.6 889.0 1215.0 891.3 1215.4 892.4 1215.8 890.5 1216.2 890.8 1216.6 891.5 1217.0 888.8 1217.4 890.8 1217.8 890.5 1218.2 889.6 1218.6 888.4 1219.0 887.2 1219.4 887.6 1219.8 887.7 1220.2 888.3 1220.6 890.2 1221.0 889.2 1221.4 888.9 1221.8 890.2 1222.2 887.8 1222.6 890.0 1223.0 889.7 1223.4 887.0 1223.8 888.5 1224.2 889.7 1224.6 890.4 1225.0 889.7 1225.4 889.7 1225.8 889.0 1226.2 887.8 1226.6 888.0 1227.0 889.9 1227.4 891.8 1227.8 891.0 1228.2 892.1 1228.6 892.2 1229.0 892.4 1229.4 889.9 1229.8 890.6 1230.2 891.2 1230.6 891.9 1231.0 889.6 1231.4 890.0 1231.8 890.4 1232.2 889.2 1232.6 890.7 1233.0 889.1 1233.4 889.9 1233.8 890.0 1234.2 888.3 1234.6 889.2 1235.0 890.8 1235.4 888.9 1235.8 888.7 1236.2 891.5 1236.6 891.8 1237.0 892.0 1237.4 891.5 1237.8 892.2 1238.2 888.9 1238.6 890.8 1239.0 889.8 1239.4 890.9 1239.8 891.6 1240.2 889.4 1240.6 890.3 1241.0 889.1 1241.4 888.9 1241.8 889.6 1242.2 889.3 1242.6 890.6 1243.0 891.4 1243.4 891.2 1243.8 890.7 1244.2 889.4 1244.6 890.8 1245.0 889.1 1245.4 888.3 1245.8 888.3 1246.2 889.7 1246.6 888.8 1247.0 891.2 1247.4 889.3 1247.8 890.1 1248.2 888.8 1248.6 888.9 1249.0 889.3 1249.4 890.1 1249.8 891.2 1250.2 889.1 1250.6 889.1 1251.0 891.0 1251.4 890.2 1251.8 891.5 1252.2 891.4 1252.6 889.5 1253.0 891.4 1253.4 891.9 1253.8 891.0 1254.2 889.5 1254.6 890.8 1255.0 889.6 1255.4 891.2 1255.8 888.2 1256.2 888.4 1256.6 890.6 1257.0 889.1 1257.4 890.6 1257.8 888.2 1258.2 891.3 1258.6 888.7 1259.0 890.2 1259.4 890.9 1259.8 888.6 1260.2 891.6 1260.6 890.9 1261.0 888.8 1261.4 887.4 1261.8 888.9 1262.2 888.8 1262.6 889.7 1263.0 890.4 1263.4 887.0 1263.8 887.7 1264.2 889.3 1264.6 889.9 1265.0 887.1 1265.4 888.8 1265.8 889.1 1266.2 887.8 1266.6 890.3 1267.0 891.4 1267.4 890.5 1267.8 888.4 1268.2 888.3 1268.6 890.6 1269.0 889.6 1269.4 888.2 1269.8 889.4 1270.2 892.3 1270.6 890.5 1271.0 892.5 1271.4 892.6 1271.8 892.0 1272.2 891.9 1272.6 893.1 1273.0 892.5 1273.4 891.7 1273.8 892.0 1274.2 892.1 1274.6 892.2 1275.0 890.0 1275.4 892.7 1275.8 892.9 1276.2 893.2 1276.6 892.1 1277.0 890.3 1277.4 892.1 1277.8 892.1 1278.2 893.1 1278.6 890.2 1279.0 889.1 1279.4 890.9 1279.8 890.7 1280.2 888.0 1280.6 889.9 1281.0 888.3 1281.4 888.9 1281.8 887.3 1282.2 888.2 1282.6 889.9 1283.0 888.5 1283.4 889.3 1283.8 887.5 1284.2 886.8 1284.6 889.5 1285.0 889.0 1285.4 889.7 1285.8 887.6 1286.2 889.1 1286.6 887.3 1287.0 886.2 1287.4 888.4 1287.8 886.4 1288.2 888.0 1288.6 889.6 1289.0 890.6 1289.4 889.6 1289.8 888.1 1290.2 891.2 1290.6 888.7 1291.0 889.1 1291.4 891.1 1291.8 890.9 1292.2 892.2 1292.6 891.0 1293.0 889.7 1293.4 892.2 1293.8 890.7 1294.2 889.4 1294.6 888.7 1295.0 890.5 1295.4 890.3 1295.8 888.9 1296.2 890.2 1296.6 890.5 1297.0 890.8 1297.4 891.3 1297.8 889.2 1298.2 889.2 1298.6 887.8 1299.0 889.0 1299.4 889.8 1299.8 888.5 1300.2 888.4 1300.6 891.5 1301.0 890.8 1301.4 889.6 1301.8 889.3 1302.2 888.7 1302.6 890.4 1303.0 890.1 1303.4 890.0 1303.8 890.2 1304.2 892.1 1304.6 890.5 1305.0 890.2 1305.4 891.2 1305.8 889.6 1306.2 892.0 1306.6 891.6 1307.0 889.2 1307.4 889.0 1307.8 891.0 1308.2 890.7 1308.6 891.5 1309.0 891.9 1309.4 891.0 1309.8 888.7 1310.2 890.4 1310.6 892.1 1311.0 890.2 1311.4 890.6 1311.8 888.4 1312.2 889.3 1312.6 889.3 1313.0 889.5 1313.4 887.9 1313.8 890.4 1314.2 888.2 1314.6 889.9 1315.0 891.5 1315.4 890.9 1315.8 890.9 1316.2 889.2 1316.6 891.6 1317.0 890.8 1317.4 892.0 1317.8 892.8 1318.2 889.8 1318.6 891.2 1319.0 889.6 1319.4 889.7 1319.8 890.6 1320.2 889.0 1320.6 890.0 1321.0 888.0 1321.4 888.8 1321.8 890.4 1322.2 887.2 1322.6 888.2 1323.0 887.0 1323.4 888.6 1323.8 887.8 1324.2 888.4 1324.6 890.2 1325.0 891.7 1325.4 891.2 1325.8 890.0 1326.2 890.9 1326.6 890.6 1327.0 890.4 1327.4 890.8 1327.8 889.7 1328.2 892.6 1328.6 891.7 1329.0 891.7 1329.4 892.4 1329.8 890.3 1330.2 889.7 1330.6 893.0 1331.0 893.2 1331.4 889.3 1331.8 891.4 1332.2 889.3 1332.6 890.0 1333.0 892.2 1333.4 892.1 1333.8 889.1 1334.2 891.6 1334.6 890.7 1335.0 889.2 1335.4 888.8 1335.8 888.7 1336.2 888.9 1336.6 891.5 1337.0 889.4 1337.4 890.5 1337.8 891.2 1338.2 887.5 1338.6 889.5 1339.0 886.9 1339.4 890.1 1339.8 890.0 1340.2 887.3 1340.6 887.6 1341.0 888.8 1341.4 887.5 1341.8 887.5 1342.2 889.6 1342.6 888.0 1343.0 890.1 1343.4 888.0 1343.8 888.0 1344.2 888.2 1344.6 892.0 1345.0 891.3 1345.4 889.6 1345.8 889.8 1346.2 891.7 1346.6 891.3 1347.0 890.1 1347.4 892.0 1347.8 890.7 1348.2 892.7 1348.6 890.8 1349.0 890.0 1349.4 889.6 1349.8 892.4 1350.2 891.7 1350.6 891.7 1351.0 891.7 1351.4 891.0 1351.8 890.3 1352.2 889.7 1352.6 888.0 1353.0 889.6 1353.4 888.1 1353.8 889.9 1354.2 888.7 1354.6 888.8 1355.0 887.4 1355.4 888.8 1355.8 889.8 1356.2 890.6 1356.6 887.7 1357.0 891.4 1357.4 890.3 1357.8 890.1 1358.2 891.2 1358.6 891.4 1359.0 888.9 1359.4 892.0 1359.8 892.5 1360.2 891.5 1360.6 893.0 1361.0 890.2 1361.4 890.6 1361.8 891.5 1362.2 892.0 1362.6 889.5 1363.0 892.4 1363.4 891.1 1363.8 893.3 1364.2 890.0 1364.6 891.2 1365.0 893.5 1365.4 890.5 1365.8 891.5 1366.2 891.4 1366.6 890.8 1367.0 891.6 1367.4 891.9 1367.8 892.7 1368.2 890.1 1368.6 893.3 1369.0 893.3 1369.4 891.0 1369.8 890.4 1370.2 890.6 1370.6 890.7 1371.0 891.0 1371.4 890.6 1371.8 887.7 1372.2 889.8 1372.6 890.8 1373.0 889.5 1373.4 889.2 1373.8 887.9 1374.2 888.8 1374.6 888.9 1375.0 891.8 1375.4 890.5 1375.8 890.1 1376.2 888.6 1376.6 891.0 1377.0 890.9 1377.4 891.1 1377.8 892.9 1378.2 892.5 1378.6 891.3 1379.0 891.5 1379.4 892.5 1379.8 894.2 1380.2 893.9 1380.6 894.5 1381.0 891.0 1381.4 891.8 1381.8 894.5 1382.2 891.3 1382.6 890.6 1383.0 891.3 1383.4 891.8 1383.8 891.3 1384.2 893.2 1384.6 891.1 1385.0 893.5 1385.4 892.6 1385.8 894.0 1386.2 893.6 1386.6 891.8 1387.0 891.4 1387.4 890.4 1387.8 891.3 1388.2 889.1 1388.6 888.4 1389.0 890.2 1389.4 891.3 1389.8 891.1 1390.2 890.9 1390.6 888.0 1391.0 887.8 1391.4 891.0 1391.8 889.3 1392.2 887.6 1392.6 887.3 1393.0 887.6 1393.4 888.7 1393.8 888.2 1394.2 890.0 1394.6 887.2 1395.0 889.0 1395.4 890.1 1395.8 888.0 1396.2 890.2 1396.6 889.5 1397.0 888.3 1397.4 891.0 1397.8 892.4 1398.2 890.1 1398.6 892.9 1399.0 890.7 1399.4 889.5 1399.8 889.7 1400.2 889.8 1400.6 891.5 1401.0 889.1 1401.4 891.3 1401.8 888.8 1402.2 891.5 1402.6 891.2 1403.0 889.3 1403.4 891.8 1403.8 888.3 1404.2 889.8 1404.6 889.5 1405.0 889.2 1405.4 890.9 1405.8 892.1 1406.2 889.9 1406.6 890.2 1407.0 889.3 1407.4 891.2 1407.8 892.2 1408.2 888.3 1408.6 889.7 1409.0 889.8 1409.4 888.8" stroke="#FF8000" stroke-width="5.6"/>
<rect x="213.1" y="490.0" width="5.7" height="415.0" rx="2.8" fill="#FF0000" stroke="none"/><rect x="233.1" y="204.0" width="5.9" height="236.0" rx="2.8" fill="#FF0000" stroke="none"/><rect x="231.8" y="380.0" width="4.0" height="284.0" rx="2.8" fill="#FF0000" stroke="none"/><rect x="228.9" y="560.0" width="6.9" height="104.0" rx="2.8" fill="#FF0000" stroke="none"/><rect x="226.1" y="608.6" width="5.1" height="54.4" rx="2.8" fill="#FF0000" stroke="none"/><rect x="213.4" y="663.0" width="11.2" height="15.0" rx="2.8" fill="#FF0000" stroke="none"/><rect x="243.6" y="574.0" width="4.0" height="116.0" rx="2.8" fill="#FF0000" stroke="none"/><rect x="246.4" y="574.0" width="4.7" height="129.0" rx="2.8" fill="#FF0000" stroke="none"/><rect x="249.9" y="600.0" width="5.7" height="85.0" rx="2.8" fill="#FF0000" stroke="none"/><rect x="254.4" y="609.0" width="5.3" height="61.0" rx="2.8" fill="#FF0000" stroke="none"/><rect x="240.1" y="776.8" width="4.2" height="13.2" rx="2.8" fill="#FF0000" stroke="none"/><rect x="228.2" y="836.0" width="13.1" height="69.0" rx="2.8" fill="#FF0000" stroke="none"/>
<path d="M252.0 656.8 252.4 654.4 252.8 638.5 253.2 644.3 253.6 634.1 254.0 635.1 254.4 642.2 254.8 646.7 255.2 629.9 255.6 628.7 256.0 646.5 256.4 644.5 256.8 639.9 257.2 634.7 257.6 628.5 258.0 635.2 258.4 631.5 258.8 641.4 259.2 630.8 259.6 640.3 260.0 633.9 260.4 618.2 260.8 627.8 261.2 633.1 261.6 628.3 262.0 620.7 262.4 611.8 262.8 621.0 263.2 623.9 263.6 613.3 264.0 610.7 264.4 604.7 264.8 605.0 265.2 605.3 265.6 605.9 266.0 609.7 266.4 616.4 266.8 608.9 267.2 615.8 267.6 629.1 268.0 627.6 268.4 635.8 268.8 619.3 269.2 621.4 269.6 634.6 270.0 624.1 270.4 638.6 270.8 636.5 271.2 629.9 271.6 624.6 272.0 625.9 272.4 638.9 272.8 628.2 273.2 626.0 273.6 621.8 274.0 636.6 274.4 622.0 274.8 633.7 275.2 621.9 275.6 622.5 276.0 636.7 276.4 640.4 276.8 626.6 277.2 630.4 277.6 634.8 278.0 629.7 278.4 629.9 278.8 639.0 279.2 638.8 279.6 632.2 280.0 631.3 280.4 635.0 280.8 631.5 281.2 641.8 281.6 626.0 282.0 630.5 282.4 643.0 282.8 629.8 283.2 636.6 283.6 641.9 284.0 642.8 284.4 642.3 284.8 645.6 285.2 631.0 285.6 628.8 286.0 632.1 286.4 632.3 286.8 643.2 287.2 635.5 287.6 648.3 288.0 633.7 288.4 632.1 288.8 632.3 289.2 633.2 289.6 647.1 290.0 652.1 290.4 647.2 290.8 655.8 291.2 650.0 291.6 642.1 292.0 643.9 292.4 645.3 292.8 644.4 293.2 647.5 293.6 647.5 294.0 655.8 294.4 655.7 294.8 656.2 295.2 650.3 295.6 654.4 296.0 657.0 296.4 655.8 296.8 655.9 297.2 656.1 297.6 663.7 298.0 661.9 298.4 661.0 298.8 663.0 299.2 664.9 299.6 662.0 300.0 664.6 300.4 662.8 300.8 663.3 301.2 664.6 301.6 667.2 302.0 671.1 302.4 667.7 302.8 671.8 303.2 669.3 303.6 671.9 304.0 667.1 304.4 668.8 304.8 668.6 305.2 671.3 305.6 674.6 306.0 671.0 306.4 670.6 306.8 675.7 307.2 674.4 307.6 676.0 308.0 670.2 308.4 674.5 308.8 676.7 309.2 678.6 309.6 678.8 310.0 682.1 310.4 682.1 310.8 682.1 311.2 682.6 311.6 683.2 312.0 690.5 312.4 690.4 312.8 689.0 313.2 691.1 313.6 693.8 314.0 693.0 314.4 698.2 314.8 699.3 315.2 698.8 315.6 700.5 316.0 701.5 316.4 694.6 316.8 694.9 317.2 696.4 317.6 702.8 318.0 700.7 318.4 703.3 318.8 700.0 319.2 706.1 319.6 702.4 320.0 703.5 320.4 705.6 320.8 708.3 321.2 711.0 321.6 710.8 322.0 712.6 322.4 713.6 322.8 712.4 323.2 717.7 323.6 714.6 324.0 719.9 324.4 719.9 324.8 716.4 325.2 719.3 325.6 719.3 326.0 722.0 326.4 720.4 326.8 719.0 327.2 725.2 327.6 719.0 328.0 719.3 328.4 725.7 328.8 724.9 329.2 720.9 329.6 726.9 330.0 728.2 330.4 730.3 330.8 730.3 331.2 725.6 331.6 734.0 332.0 734.7 332.4 733.5 332.8 730.8 333.2 735.7 333.6 735.6 334.0 735.6 334.4 734.8 334.8 731.3 335.2 737.8 335.6 733.8 336.0 739.7 336.4 736.6 336.8 739.5 337.2 734.9 337.6 744.4 338.0 740.2 338.4 743.0 338.8 748.2 339.2 750.0 339.6 746.9 340.0 746.6 340.4 746.8 340.8 748.0 341.2 748.9 341.6 752.3 342.0 749.6 342.4 754.4 342.8 752.2 343.2 752.9 343.6 753.6 344.0 753.2 344.4 749.7 344.8 757.2 345.2 750.7 345.6 759.2 346.0 756.1 346.4 756.9 346.8 757.5 347.2 762.1 347.6 758.5 348.0 766.0 348.4 768.9 348.8 764.8 349.2 766.8 349.6 771.8 350.0 772.7 350.4 769.8 350.8 773.6 351.2 773.2 351.6 775.3 352.0 773.7 352.4 772.1 352.8 773.6 353.2 771.2 353.6 769.5 354.0 776.3 354.4 777.6 354.8 773.3 355.2 779.7 355.6 778.6 356.0 773.2 356.4 776.0 356.8 778.1 357.2 780.1 357.6 781.7 358.0 783.5 358.4 783.2 358.8 784.3 359.2 781.4 359.6 783.9 360.0 782.6 360.4 778.8 360.8 778.7 361.2 779.8 361.6 783.8 362.0 785.9 362.4 785.0 362.8 786.8 363.2 786.5 363.6 780.9 364.0 780.7 364.4 783.7 364.8 784.4 365.2 788.5 365.6 788.4 366.0 789.1 366.4 786.5 366.8 790.7 367.2 793.7 367.6 789.7 368.0 791.5 368.4 792.3 368.8 787.3 369.2 788.4 369.6 791.9 370.0 791.1 370.4 792.7 370.8 790.9 371.2 795.1 371.6 791.7 372.0 798.1 372.4 794.2 372.8 796.8 373.2 797.5 373.6 795.2 374.0 799.0 374.4 793.0 374.8 793.5 375.2 793.0 375.6 796.2 376.0 797.2 376.4 796.2 376.8 799.1 377.2 800.5 377.6 803.6 378.0 803.4 378.4 800.9 378.8 800.7 379.2 796.3 379.6 800.1 380.0 801.6 380.4 804.7 380.8 805.5 381.2 807.6 381.6 809.1 382.0 809.5 382.4 811.0 382.8 808.5 383.2 804.8 383.6 808.1 384.0 809.0 384.4 812.7 384.8 805.6 385.2 807.6 385.6 812.2 386.0 813.3 386.4 807.7 386.8 811.8 387.2 813.7 387.6 812.3 388.0 810.2 388.4 808.6 388.8 809.5 389.2 813.4 389.6 808.8 390.0 808.8 390.4 815.9 390.8 807.3 391.2 812.3 391.6 816.0 392.0 809.1 392.4 814.8 392.8 809.6 393.2 815.6 393.6 818.4 394.0 818.3 394.4 814.3 394.8 817.9 395.2 822.0 395.6 819.2 396.0 821.3 396.4 820.1 396.8 820.9 397.2 815.9 397.6 823.5 398.0 820.5 398.4 822.0 398.8 822.0 399.2 815.0 399.6 814.9 400.0 821.1 400.4 816.9 400.8 821.2 401.2 821.3 401.6 821.8 402.0 821.6 402.4 822.8 402.8 819.6 403.2 825.1 403.6 826.2 404.0 822.2 404.4 825.5 404.8 823.1 405.2 824.2 405.6 822.0 406.0 818.9 406.4 818.5 406.8 814.3 407.2 818.5 407.6 820.5 408.0 814.0 408.4 813.7 408.8 818.2 409.2 820.6 409.6 818.1 410.0 820.1 410.4 817.2 410.8 823.5 411.2 823.2 411.6 818.4 412.0 820.2 412.4 824.9 412.8 825.9 413.2 820.9 413.6 823.5 414.0 824.5 414.4 825.2 414.8 826.5 415.2 828.1 415.6 825.3 416.0 823.4 416.4 825.7 416.8 830.6 417.2 829.0 417.6 826.8 418.0 827.8 418.4 826.6 418.8 833.3 419.2 829.7 419.6 834.5 420.0 831.3 420.4 831.4 420.8 836.3 421.2 834.5 421.6 830.4 422.0 835.5 422.4 829.2 422.8 831.9 423.2 830.9 423.6 836.1 424.0 829.6 424.4 829.6 424.8 831.8 425.2 829.6 425.6 834.0 426.0 831.2 426.4 830.7 426.8 826.9 427.2 828.7 427.6 833.6 428.0 830.6 428.4 833.2 428.8 824.3 429.2 832.4 429.6 826.4 430.0 826.5 430.4 831.1 430.8 827.8 431.2 826.6 431.6 829.2 432.0 824.1 432.4 827.6 432.8 830.9 433.2 829.4 433.6 833.0 434.0 832.0 434.4 832.3 434.8 835.1 435.2 829.8 435.6 831.0 436.0 837.3 436.4 831.2 436.8 833.1 437.2 836.0 437.6 832.5 438.0 828.9 438.4 834.6 438.8 835.4 439.2 833.2 439.6 835.6 440.0 835.8 440.4 835.7 440.8 834.2 441.2 836.9 441.6 835.6 442.0 831.2 442.4 836.8 442.8 837.1 443.2 829.4 443.6 830.4 444.0 837.1 444.4 832.8 444.8 831.2 445.2 827.1 445.6 825.5 446.0 825.2 446.4 827.8 446.8 825.3 447.2 830.6 447.6 831.8 448.0 828.7 448.4 830.1 448.8 828.8 449.2 830.9 449.6 832.0 450.0 831.9 450.4 831.3 450.8 825.5 451.2 827.9 451.6 830.2 452.0 829.5 452.4 828.7 452.8 830.5 453.2 833.6 453.6 831.9 454.0 834.7 454.4 830.8 454.8 833.6 455.2 828.8 455.6 833.8 456.0 831.2 456.4 830.2 456.8 833.9 457.2 828.9 457.6 827.5 458.0 833.6 458.4 827.5 458.8 835.2 459.2 829.2 459.6 829.2 460.0 827.2 460.4 828.6 460.8 833.3 461.2 830.3 461.6 826.9 462.0 832.8 462.4 828.8 462.8 825.5 463.2 825.9 463.6 828.2 464.0 823.9 464.4 829.1 464.8 828.5 465.2 830.4 465.6 827.8 466.0 828.9 466.4 830.5 466.8 831.4 467.2 832.4 467.6 832.6 468.0 835.5 468.4 831.1 468.8 834.5 469.2 831.3 469.6 828.5 470.0 833.9 470.4 835.6 470.8 834.0 471.2 834.8 471.6 831.5 472.0 832.9 472.4 836.0 472.8 829.5 473.2 833.2 473.6 835.5 474.0 830.9 474.4 834.4 474.8 828.5 475.2 829.5 475.6 831.4 476.0 830.5 476.4 824.5 476.8 827.4 477.2 827.9 477.6 827.1 478.0 824.7 478.4 830.9 478.8 825.0 479.2 826.9 479.6 827.8 480.0 831.0 480.4 832.0 480.8 832.6 481.2 827.4 481.6 823.9 482.0 825.4 482.4 823.1 482.8 828.3 483.2 825.7 483.6 824.9 484.0 827.6 484.4 827.5 484.8 823.0 485.2 828.4 485.6 827.9 486.0 823.9 486.4 825.7 486.8 828.4 487.2 831.0 487.6 827.8 488.0 826.0 488.4 828.6 488.8 822.5 489.2 826.3 489.6 826.0 490.0 827.7 490.4 826.7 490.8 825.6 491.2 826.0 491.6 831.1 492.0 823.0 492.4 828.0 492.8 825.8 493.2 826.3 493.6 820.6 494.0 820.5 494.4 823.0 494.8 823.0 495.2 821.2 495.6 819.7 496.0 824.8 496.4 820.1 496.8 824.6 497.2 824.5 497.6 818.3 498.0 826.0 498.4 824.7 498.8 826.6 499.2 821.6 499.6 818.9 500.0 821.0 500.4 822.6 500.8 821.4 501.2 819.2 501.6 820.8 502.0 820.2 502.4 817.1 502.8 819.8 503.2 815.3 503.6 817.0 504.0 815.2 504.4 816.7 504.8 816.7 505.2 818.4 505.6 817.4 506.0 815.1 506.4 812.7 506.8 813.6 507.2 812.6 507.6 819.9 508.0 815.6 508.4 818.5 508.8 817.4 509.2 812.6 509.6 813.9 510.0 812.9 510.4 810.2 510.8 813.1 511.2 813.0 511.6 812.6 512.0 811.8 512.4 810.3 512.8 811.1 513.2 815.1 513.6 810.5 514.0 816.4 514.4 814.5 514.8 815.7 515.2 810.6 515.6 814.9 516.0 814.5 516.4 817.9 516.8 810.5 517.2 812.2 517.6 817.8 518.0 817.7 518.4 815.1 518.8 818.6 519.2 812.7 519.6 814.1 520.0 814.1 520.4 811.8 520.8 810.4 521.2 812.2 521.6 810.2 522.0 811.7 522.4 811.6 522.8 809.5 523.2 809.6 523.6 811.7 524.0 811.6 524.4 811.7 524.8 809.3 525.2 808.2 525.6 811.0 526.0 811.1 526.4 806.9 526.8 812.1 527.2 811.6 527.6 811.4 528.0 808.3 528.4 808.7 528.8 810.8 529.2 808.4 529.6 808.9 530.0 806.1 530.4 807.5 530.8 805.7 531.2 808.2 531.6 806.5 532.0 809.6 532.4 810.0 532.8 810.6 533.2 808.7 533.6 809.1 534.0 805.5 534.4 803.7 534.8 807.9 535.2 805.2 535.6 807.5 536.0 804.0 536.4 805.8 536.8 805.0 537.2 803.1 537.6 802.6 538.0 801.0 538.4 804.0 538.8 802.9 539.2 798.5 539.6 802.3 540.0 798.3 540.4 801.0 540.8 796.5 541.2 797.7 541.6 796.6 542.0 801.8 542.4 799.9 542.8 801.1 543.2 799.6 543.6 796.1 544.0 798.0 544.4 797.2 544.8 797.8 545.2 799.3 545.6 798.2 546.0 796.3 546.4 795.5 546.8 796.8 547.2 798.1 547.6 792.6 548.0 797.6 548.4 792.0 548.8 795.2 549.2 796.4 549.6 793.0 550.0 791.9 550.4 794.7 550.8 796.2 551.2 793.8 551.6 796.1 552.0 795.3 552.4 793.7 552.8 791.2 553.2 790.8 553.6 791.1 554.0 793.7 554.4 793.6 554.8 789.1 555.2 789.3 555.6 792.5 556.0 791.9 556.4 792.2 556.8 790.7 557.2 789.1 557.6 787.4 558.0 787.6 558.4 788.9 558.8 787.8 559.2 786.4 559.6 785.2 560.0 785.3 560.4 785.3 560.8 787.2 561.2 787.1 561.6 785.4 562.0 784.2 562.4 786.0 562.8 783.5 563.2 786.7 563.6 785.9 564.0 786.8 564.4 784.8 564.8 782.5 565.2 786.3 565.6 783.6 566.0 786.4 566.4 783.2 566.8 785.4 567.2 782.8 567.6 781.0 568.0 785.3 568.4 782.7 568.8 782.3 569.2 783.8 569.6 779.8 570.0 782.0 570.4 782.2 570.8 779.3 571.2 783.8 571.6 780.3 572.0 779.3 572.4 781.9 572.8 780.8 573.2 777.8 573.6 777.3 574.0 778.3 574.4 776.6 574.8 778.8 575.2 774.8 575.6 778.0 576.0 774.9 576.4 775.7 576.8 776.0 577.2 775.7 577.6 774.0 578.0 773.8 578.4 772.2 578.8 769.4 579.2 771.9 579.6 770.9 580.0 769.1 580.4 768.1 580.8 767.0 581.2 768.8 581.6 765.0 582.0 766.0 582.4 764.0 582.8 766.4 583.2 763.7 583.6 766.1 584.0 764.9 584.4 765.8 584.8 763.8 585.2 764.3 585.6 766.0 586.0 763.6 586.4 767.7 586.8 766.5 587.2 767.6 587.6 767.1 588.0 765.8 588.4 764.5 588.8 766.6 589.2 763.4 589.6 764.4 590.0 765.4 590.4 761.0 590.8 762.8 591.2 760.2 591.6 761.6 592.0 760.9 592.4 760.4 592.8 759.3 593.2 760.4 593.6 757.8 594.0 758.7 594.4 756.6 594.8 758.7 595.2 756.6 595.6 754.9 596.0 756.8 596.4 753.7 596.8 755.1 597.2 754.5 597.6 751.1 598.0 753.6 598.4 753.9 598.8 753.4 599.2 754.1 599.6 751.3 600.0 751.8 600.4 749.6 600.8 750.4 601.2 752.7 601.6 749.4 602.0 752.0 602.4 752.1 602.8 750.0 603.2 752.4 603.6 750.9 604.0 749.5 604.4 748.6 604.8 750.4 605.2 751.4 605.6 749.6 606.0 750.9 606.4 749.8 606.8 749.4 607.2 751.3 607.6 751.0 608.0 747.7 608.4 747.9 608.8 749.6 609.2 749.9 609.6 748.8 610.0 747.5 610.4 749.6 610.8 745.5 611.2 748.0 611.6 746.0 612.0 747.6 612.4 747.6 612.8 748.1 613.2 746.6 613.6 744.7 614.0 743.1 614.4 742.8 614.8 746.7 615.2 742.3 615.6 746.1 616.0 745.0 616.4 744.7 616.8 742.5 617.2 741.1 617.6 742.6 618.0 740.4 618.4 741.2 618.8 741.7 619.2 739.2 619.6 740.4 620.0 740.4 620.4 740.3 620.8 739.1 621.2 738.6 621.6 738.8 622.0 736.2 622.4 738.9 622.8 736.2 623.2 735.4 623.6 736.4 624.0 738.1 624.4 738.2 624.8 734.8 625.2 737.7 625.6 732.9 626.0 734.0 626.4 733.0 626.8 733.1 627.2 730.5 627.6 730.0 628.0 734.2 628.4 732.9 628.8 728.9 629.2 730.8 629.6 731.3 630.0 726.8 630.4 729.7 630.8 727.4 631.2 728.0 631.6 725.1 632.0 726.3 632.4 726.4 632.8 723.2 633.2 724.6 633.6 724.1 634.0 724.5 634.4 722.5 634.8 724.8 635.2 721.0 635.6 719.4 636.0 721.6 636.4 722.5 636.8 719.2 637.2 721.1 637.6 720.6 638.0 718.8 638.4 719.5 638.8 717.0 639.2 717.9 639.6 717.4 640.0 717.1 640.4 716.6 640.8 715.6 641.2 712.7 641.6 715.9 642.0 715.1 642.4 714.6 642.8 712.9 643.2 711.6 643.6 711.1 644.0 714.1 644.4 710.7 644.8 713.5 645.2 714.2 645.6 711.0 646.0 711.1 646.4 712.6 646.8 709.9 647.2 709.8 647.6 708.3 648.0 707.0 648.4 707.9 648.8 707.5 649.2 708.1 649.6 707.7 650.0 703.9 650.4 705.2 650.8 705.7 651.2 705.8 651.6 702.9 652.0 704.5 652.4 705.6 652.8 702.4 653.2 701.9 653.6 701.1 654.0 699.4 654.4 699.2 654.8 700.5 655.2 703.0 655.6 700.8 656.0 700.0 656.4 696.7 656.8 698.5 657.2 695.5 657.6 698.8 658.0 697.1 658.4 697.2 658.8 693.6 659.2 697.5 659.6 695.0 660.0 695.9 660.4 692.7 660.8 695.0 661.2 691.1 661.6 690.9 662.0 692.4 662.4 694.1 662.8 690.0 663.2 693.2 663.6 691.5 664.0 691.6 664.4 692.3 664.8 688.9 665.2 690.2 665.6 691.3 666.0 691.4 666.4 688.7 666.8 691.0 667.2 689.3 667.6 688.1 668.0 684.6 668.4 687.0 668.8 687.9 669.2 687.1 669.6 686.2 670.0 684.1 670.4 684.3 670.8 685.1 671.2 684.0 671.6 683.3 672.0 684.7 672.4 684.3 672.8 683.9 673.2 684.3 673.6 684.5 674.0 682.6 674.4 682.4 674.8 685.2 675.2 680.7 675.6 680.1 676.0 682.0 676.4 681.1 676.8 683.3 677.2 679.1 677.6 682.1 678.0 678.9 678.4 681.0 678.8 678.2 679.2 676.8 679.6 679.1 680.0 675.3 680.4 676.4 680.8 677.7 681.2 675.4 681.6 673.7 682.0 672.5 682.4 677.1 682.8 672.9 683.2 675.0 683.6 671.5 684.0 674.9 684.4 672.5 684.8 669.5 685.2 672.4 685.6 669.3 686.0 669.6 686.4 672.1 686.8 668.9 687.2 667.3 687.6 668.7 688.0 671.5 688.4 671.8 688.8 670.5 689.2 671.2 689.6 671.6 690.0 667.3 690.4 670.7 690.8 668.1 691.2 667.1 691.6 669.6 692.0 670.4 692.4 665.0 692.8 667.2 693.2 667.0 693.6 664.8 694.0 666.3 694.4 664.3 694.8 667.9 695.2 665.1 695.6 666.0 696.0 664.8 696.4 663.1 696.8 667.8 697.2 666.4 697.6 667.6 698.0 661.6 698.4 665.9 698.8 662.6 699.2 662.6 699.6 664.1 700.0 663.3 700.4 662.9 700.8 661.2 701.2 658.8 701.6 660.7 702.0 661.6 702.4 660.7 702.8 655.0 703.2 660.2 703.6 657.1 704.0 655.2 704.4 658.9 704.8 659.2 705.2 657.6 705.6 657.3 706.0 659.3 706.4 658.0 706.8 658.2 707.2 657.8 707.6 654.3 708.0 653.2 708.4 652.7 708.8 652.7 709.2 656.1 709.6 652.3 710.0 652.6 710.4 654.7 710.8 650.1 711.2 653.7 711.6 651.0 712.0 648.3 712.4 652.3 712.8 649.5 713.2 648.0 713.6 651.1 714.0 647.6 714.4 650.6 714.8 646.6 715.2 649.4 715.6 649.1 716.0 650.1 716.4 650.3 716.8 647.3 717.2 648.9 717.6 645.3 718.0 649.1 718.4 645.8 718.8 648.7 719.2 650.1 719.6 647.3 720.0 648.6 720.4 649.6 720.8 647.0 721.2 645.9 721.6 650.0 722.0 646.3 722.4 648.8 722.8 649.3 723.2 647.9 723.6 645.4 724.0 649.1 724.4 648.3 724.8 644.4 725.2 649.0 725.6 646.4 726.0 648.1 726.4 646.7 726.8 642.4 727.2 645.8 727.6 646.1 728.0 644.5 728.4 642.2 728.8 644.9 729.2 643.1 729.6 642.9 730.0 641.1 730.4 641.8 730.8 639.0 731.2 639.1 731.6 638.2 732.0 641.7 732.4 638.9 732.8 638.9 733.2 640.6 733.6 637.5 734.0 638.1 734.4 639.1 734.8 638.2 735.2 639.5 735.6 640.2 736.0 640.1 736.4 638.3 736.8 638.3 737.2 636.3 737.6 638.7 738.0 635.6 738.4 635.1 738.8 635.1 739.2 633.7 739.6 635.0 740.0 637.4 740.4 633.6 740.8 637.6 741.2 636.2 741.6 633.8 742.0 636.0 742.4 635.5 742.8 634.9 743.2 632.2 743.6 635.5 744.0 634.6 744.4 633.2 744.8 635.1 745.2 636.5 745.6 633.7 746.0 633.7 746.4 634.3 746.8 634.9 747.2 635.5 747.6 638.3 748.0 636.1 748.4 634.5 748.8 635.1 749.2 632.9 749.6 633.0 750.0 637.0 750.4 633.2 750.8 632.8 751.2 637.6 751.6 634.3 752.0 635.8 752.4 635.5 752.8 635.2 753.2 634.5 753.6 636.9 754.0 637.7 754.4 636.2 754.8 635.0 755.2 637.2 755.6 632.7 756.0 636.3 756.4 635.9 756.8 633.0 757.2 632.6 757.6 634.2 758.0 636.0 758.4 635.5 758.8 636.8 759.2 634.4 759.6 638.5 760.0 636.8 760.4 637.3 760.8 636.4 761.2 640.4 761.6 637.3 762.0 639.7 762.4 638.4 762.8 639.5 763.2 637.8 763.6 637.0 764.0 638.2 764.4 636.2 764.8 639.0 765.2 639.1 765.6 638.0 766.0 639.6 766.4 638.2 766.8 636.8 767.2 638.6 767.6 640.2 768.0 636.0 768.4 635.9 768.8 637.4 769.2 636.6 769.6 636.9 770.0 641.5 770.4 641.1 770.8 638.5 771.2 641.6 771.6 639.5 772.0 639.5 772.4 641.2 772.8 642.3 773.2 643.0 773.6 643.5 774.0 641.4 774.4 641.3 774.8 641.0 775.2 641.6 775.6 644.8 776.0 645.9 776.4 645.3 776.8 645.4 777.2 645.8 777.6 645.1 778.0 644.4 778.4 645.1 778.8 647.1 779.2 645.6 779.6 645.2 780.0 647.7 780.4 648.3 780.8 649.2 781.2 646.9 781.6 647.4 782.0 649.5 782.4 649.7 782.8 648.9 783.2 647.8 783.6 646.5 784.0 648.9 784.4 650.9 784.8 649.0 785.2 650.1 785.6 649.6 786.0 650.9 786.4 648.1 786.8 649.6 787.2 648.9 787.6 652.5 788.0 654.0 788.4 654.1 788.8 653.0 789.2 653.8 789.6 655.5 790.0 657.7 790.4 654.7 790.8 654.3 791.2 656.1 791.6 654.9 792.0 659.1 792.4 656.8 792.8 655.8 793.2 659.9 793.6 659.1 794.0 656.9 794.4 660.1 794.8 656.8 795.2 659.7 795.6 657.5 796.0 659.4 796.4 658.8 796.8 661.8 797.2 662.7 797.6 661.0 798.0 665.4 798.4 666.1 798.8 666.1 799.2 664.3 799.6 665.9 800.0 666.6 800.4 668.9 800.8 667.6 801.2 669.8 801.6 668.7 802.0 670.0 802.4 673.4 802.8 672.3 803.2 673.2 803.6 674.9 804.0 673.5 804.4 677.4 804.8 676.2 805.2 676.7 805.6 679.5 806.0 680.2 806.4 678.4 806.8 679.2 807.2 680.3 807.6 679.5 808.0 682.9 808.4 683.7 808.8 681.5 809.2 683.9 809.6 681.6 810.0 684.8 810.4 684.9 810.8 685.0 811.2 682.2 811.6 683.8 812.0 686.5 812.4 686.4 812.8 683.8 813.2 684.4 813.6 687.8 814.0 687.9 814.4 689.6 814.8 687.9 815.2 690.4 815.6 688.8 816.0 692.5 816.4 691.0 816.8 692.6 817.2 690.6 817.6 691.4 818.0 695.3 818.4 692.3 818.8 694.3 819.2 693.8 819.6 696.4 820.0 697.2 820.4 698.4 820.8 697.8 821.2 697.7 821.6 700.1 822.0 701.1 822.4 701.4 822.8 699.0 823.2 701.0 823.6 701.8 824.0 702.7 824.4 704.2 824.8 702.2 825.2 703.4 825.6 704.7 826.0 707.0 826.4 707.6 826.8 705.6 827.2 709.4 827.6 711.0 828.0 709.7 828.4 711.6 828.8 713.0 829.2 712.7 829.6 715.4 830.0 714.9 830.4 715.6 830.8 715.8 831.2 717.8 831.6 716.6 832.0 717.6 832.4 719.7 832.8 717.3 833.2 721.5 833.6 719.5 834.0 719.4 834.4 720.8 834.8 721.0 835.2 721.9 835.6 724.0 836.0 724.4 836.4 723.0 836.8 727.3 837.2 725.9 837.6 729.3 838.0 729.7 838.4 730.2 838.8 728.9 839.2 731.5 839.6 733.0 840.0 731.0 840.4 734.8 840.8 732.4 841.2 734.9 841.6 734.5 842.0 734.3 842.4 737.4 842.8 735.6 843.2 735.3 843.6 737.3 844.0 738.5 844.4 737.8 844.8 741.3 845.2 741.4 845.6 742.2 846.0 743.7 846.4 743.2 846.8 745.5 847.2 744.9 847.6 745.8 848.0 746.7 848.4 748.0 848.8 747.8 849.2 749.4 849.6 750.3 850.0 750.2 850.4 750.1 850.8 751.6 851.2 749.7 851.6 750.2 852.0 753.3 852.4 752.1 852.8 753.0 853.2 754.7 853.6 753.1 854.0 755.2 854.4 757.4 854.8 758.5 855.2 756.7 855.6 757.9 856.0 759.5 856.4 760.9 856.8 760.9 857.2 762.5 857.6 762.8 858.0 764.4 858.4 765.6 858.8 767.0 859.2 768.8 859.6 767.4 860.0 767.6 860.4 768.4 860.8 769.7 861.2 772.6 861.6 772.5 862.0 771.7 862.4 773.1 862.8 772.4 863.2 775.2 863.6 774.9 864.0 776.7 864.4 778.4 864.8 777.7 865.2 777.3 865.6 778.3 866.0 778.9 866.4 779.8 866.8 780.2 867.2 781.2 867.6 780.3 868.0 781.9 868.4 782.6 868.8 785.3 869.2 786.3 869.6 785.7 870.0 788.3 870.4 789.5 870.8 787.9 871.2 790.8 871.6 792.0 872.0 791.7 872.4 792.3 872.8 794.5 873.2 794.1 873.6 795.5 874.0 795.8 874.4 796.0 874.8 795.4 875.2 798.5 875.6 798.7 876.0 797.7 876.4 800.6 876.8 799.1 877.2 801.4 877.6 801.1 878.0 803.8 878.4 803.2 878.8 803.9 879.2 805.7 879.6 805.5 880.0 806.6 880.4 806.0 880.8 807.5 881.2 807.2 881.6 808.0 882.0 808.7 882.4 808.9 882.8 809.4 883.2 809.1 883.6 809.9 884.0 812.7 884.4 811.2 884.8 812.7 885.2 813.8 885.6 814.2 886.0 815.6 886.4 816.6 886.8 814.6 887.2 815.2 887.6 818.2 888.0 817.6 888.4 816.8 888.8 817.6 889.2 820.0 889.6 820.4 890.0 818.7 890.4 819.7 890.8 821.3 891.2 823.7 891.6 824.1 892.0 823.3 892.4 824.0 892.8 824.8 893.2 827.3 893.6 825.3 894.0 825.8 894.4 826.8 894.8 827.1 895.2 829.8 895.6 830.2 896.0 829.7 896.4 829.4 896.8 830.8 897.2 832.3 897.6 833.9 898.0 832.4 898.4 833.3 898.8 834.4 899.2 835.4 899.6 836.2 900.0 838.2 900.4 839.3 900.8 838.1 901.2 840.2 901.6 841.0 902.0 842.1 902.4 841.9 902.8 841.7 903.2 842.8 903.6 843.7 904.0 844.3 904.4 845.0 904.8 843.9 905.2 844.7 905.6 844.5 906.0 845.4 906.4 846.4 906.8 846.0 907.2 848.4 907.6 847.0 908.0 848.5 908.4 848.4 908.8 850.5 909.2 848.7 909.6 850.4 910.0 851.1 910.4 851.4 910.8 852.5 911.2 852.5 911.6 853.5 912.0 853.2 912.4 852.6 912.8 852.9 913.2 854.8 913.6 854.8 914.0 854.8 914.4 858.0 914.8 856.8 915.2 858.0 915.6 858.5 916.0 859.8 916.4 858.5 916.8 861.1 917.2 860.9 917.6 860.5 918.0 859.7 918.4 859.5 918.8 859.9 919.2 860.2 919.6 861.1 920.0 861.2 920.4 862.6 920.8 862.7 921.2 861.4 921.6 861.2 922.0 862.7 922.4 864.3 922.8 863.0 923.2 862.7 923.6 863.3 924.0 863.5 924.4 863.4 924.8 865.9 925.2 865.7 925.6 864.2 926.0 864.4 926.4 865.3 926.8 867.1 927.2 865.1 927.6 867.8 928.0 867.2 928.4 867.6 928.8 868.3 929.2 868.5 929.6 867.5 930.0 867.9 930.4 869.7 930.8 870.7 931.2 868.8 931.6 869.3 932.0 870.6 932.4 871.4 932.8 872.5 933.2 871.4 933.6 872.3 934.0 871.1 934.4 871.3 934.8 871.6 935.2 872.2 935.6 873.3 936.0 872.6 936.4 871.8 936.8 872.3 937.2 873.4 937.6 874.7 938.0 874.3 938.4 874.0 938.8 874.9 939.2 874.0 939.6 873.8 940.0 875.1 940.4 873.2 940.8 874.1 941.2 873.7 941.6 874.4 942.0 876.0 942.4 874.2 942.8 876.1 943.2 875.6 943.6 874.8 944.0 875.4 944.4 875.5 944.8 877.0 945.2 875.9 945.6 876.3 946.0 877.4 946.4 876.2 946.8 877.1 947.2 878.5 947.6 878.9 948.0 878.3 948.4 878.3 948.8 877.4 949.2 878.4 949.6 877.7 950.0 878.6 950.4 878.3 950.8 879.2 951.2 878.3 951.6 878.2 952.0 878.4 952.4 880.1 952.8 879.8 953.2 879.4 953.6 879.2 954.0 880.3 954.4 880.9 954.8 881.4 955.2 879.6 955.6 882.2 956.0 880.3 956.4 880.4 956.8 881.6 957.2 882.8 957.6 882.8 958.0 881.2 958.4 882.7 958.8 883.8 959.2 883.6 959.6 882.1 960.0 883.3 960.4 882.5 960.8 883.6 961.2 883.1 961.6 883.9 962.0 884.1 962.4 884.6 962.8 883.6 963.2 883.7 963.6 884.5 964.0 884.9 964.4 885.3 964.8 886.6 965.2 886.5 965.6 885.2 966.0 884.8 966.4 886.1 966.8 885.8 967.2 886.1 967.6 886.9 968.0 885.9 968.4 885.5 968.8 885.4 969.2 887.0 969.6 886.9 970.0 886.2 970.4 887.3 970.8 886.8 971.2 886.7 971.6 887.8 972.0 888.1 972.4 888.6 972.8 887.1 973.2 887.4 973.6 887.1 974.0 888.0 974.4 886.8 974.8 887.7 975.2 888.7 975.6 886.8 976.0 886.9 976.4 887.1 976.8 889.0 977.2 889.2 977.6 888.7 978.0 888.2 978.4 888.2 978.8 889.8 979.2 888.8 979.6 890.6 980.0 889.8 980.4 890.3 980.8 889.5 981.2 888.7 981.6 888.9 982.0 890.1 982.4 890.5 982.8 889.3 983.2 889.0 983.6 889.3 984.0 890.2 984.4 891.5 984.8 890.6 985.2 891.1 985.6 891.3 986.0 891.3 986.4 891.0 986.8 889.3 987.2 890.3 987.6 891.1 988.0 889.3 988.4 889.2 988.8 889.8 989.2 889.3 989.6 889.8 990.0 889.7 990.4 889.2 990.8 889.6 991.2 889.6 991.6 890.0 992.0 889.8 992.4 890.8 992.8 890.7 993.2 890.0 993.6 891.1 994.0 892.0 994.4 891.2 994.8 890.9 995.2 892.4 995.6 892.7 996.0 892.5 996.4 892.0 996.8 893.0 997.2 892.0 997.6 893.6 998.0 894.0 998.4 893.3 998.8 893.1 999.2 893.5 999.6 893.6 1000.0 891.8 1000.4 893.0 1000.8 892.8 1001.2 893.7 1001.6 893.8 1002.0 893.5 1002.4 893.6 1002.8 894.3 1003.2 893.9 1003.6 893.6 1004.0 894.0 1004.4 894.2 1004.8 894.5 1005.2 894.7 1005.6 894.2 1006.0 894.1 1006.4 894.0 1006.8 895.2 1007.2 894.4 1007.6 894.5 1008.0 894.2 1008.4 894.0 1008.8 894.6 1009.2 895.6 1009.6 895.4 1010.0 894.9 1010.4 894.3 1010.8 894.7 1011.2 895.1 1011.6 895.7 1012.0 895.3 1012.4 895.3 1012.8 895.9 1013.2 895.7 1013.6 895.8 1014.0 896.4 1014.4 896.5 1014.8 897.1 1015.2 895.7 1015.6 894.9 1016.0 896.9 1016.4 896.8 1016.8 895.6 1017.2 896.2 1017.6 895.5 1018.0 895.4 1018.4 895.9 1018.8 896.2 1019.2 896.0 1019.6 896.4 1020.0 896.5 1020.4 896.0 1020.8 897.1 1021.2 896.6 1021.6 896.5 1022.0 896.1 1022.4 895.9 1022.8 896.3 1023.2 896.4 1023.6 896.8 1024.0 897.1 1024.4 896.7 1024.8 896.7 1025.2 896.2 1025.6 894.6 1026.0 895.8 1026.4 896.2 1026.8 896.2 1027.2 895.6 1027.6 896.5 1028.0 895.4 1028.4 896.0 1028.8 896.3 1029.2 897.0 1029.6 896.7 1030.0 895.8 1030.4 897.2 1030.8 897.1 1031.2 897.3 1031.6 896.6 1032.0 898.0 1032.4 897.5 1032.8 896.2 1033.2 896.3 1033.6 896.6 1034.0 898.3 1034.4 898.0 1034.8 897.1 1035.2 897.3 1035.6 896.8 1036.0 897.9 1036.4 898.9 1036.8 897.9 1037.2 898.1 1037.6 898.2 1038.0 898.0 1038.4 898.3 1038.8 898.3 1039.2 898.1 1039.6 899.2 1040.0 898.5 1040.4 898.1 1040.8 898.2 1041.2 897.6 1041.6 898.2 1042.0 898.3 1042.4 898.1 1042.8 898.0 1043.2 898.2 1043.6 898.9 1044.0 896.9 1044.4 897.6 1044.8 897.0 1045.2 898.3 1045.6 896.6 1046.0 897.7 1046.4 896.2 1046.8 897.1 1047.2 897.1 1047.6 895.9 1048.0 894.9 1048.4 896.4 1048.8 896.3 1049.2 895.0 1049.6 895.0 1050.0 896.2 1050.4 895.6 1050.8 897.0 1051.2 895.1 1051.6 896.7 1052.0 895.9 1052.4 895.4 1052.8 896.2 1053.2 895.8 1053.6 897.0 1054.0 896.5 1054.4 897.2 1054.8 897.7 1055.2 897.6 1055.6 897.9 1056.0 896.5 1056.4 898.0 1056.8 896.2 1057.2 897.1 1057.6 896.7 1058.0 896.8 1058.4 895.8 1058.8 895.7 1059.2 895.9 1059.6 895.8 1060.0 896.5 1060.4 895.4 1060.8 896.5 1061.2 897.0 1061.6 897.2 1062.0 896.4 1062.4 896.7 1062.8 895.5 1063.2 897.4 1063.6 896.7 1064.0 896.2 1064.4 895.6 1064.8 896.2 1065.2 897.6 1065.6 897.4 1066.0 897.9 1066.4 897.7 1066.8 898.5 1067.2 898.6 1067.6 898.0 1068.0 897.7 1068.4 898.4 1068.8 898.3 1069.2 898.3 1069.6 897.1 1070.0 897.1 1070.4 898.9 1070.8 896.8 1071.2 897.0 1071.6 898.4 1072.0 898.6 1072.4 896.9 1072.8 898.4 1073.2 896.7 1073.6 897.0 1074.0 897.0 1074.4 897.5 1074.8 896.6 1075.2 897.1 1075.6 896.6 1076.0 898.2 1076.4 897.1 1076.8 897.0 1077.2 897.1 1077.6 896.5 1078.0 897.8 1078.4 896.5 1078.8 897.7 1079.2 897.1 1079.6 897.8 1080.0 896.9 1080.4 897.5 1080.8 897.8 1081.2 898.0 1081.6 897.9 1082.0 897.7 1082.4 897.7 1082.8 896.2 1083.2 898.2 1083.6 898.3 1084.0 898.0 1084.4 898.3 1084.8 898.4 1085.2 897.3 1085.6 897.3 1086.0 897.5 1086.4 898.7 1086.8 898.1 1087.2 898.5 1087.6 898.7 1088.0 897.1 1088.4 898.9 1088.8 896.7 1089.2 897.5 1089.6 898.4 1090.0 897.2 1090.4 898.0 1090.8 896.7 1091.2 898.6 1091.6 897.6 1092.0 896.6 1092.4 898.5 1092.8 896.6 1093.2 898.6 1093.6 898.2 1094.0 898.3 1094.4 898.5 1094.8 897.0 1095.2 897.2 1095.6 897.7 1096.0 897.2 1096.4 897.5 1096.8 897.4 1097.2 897.2 1097.6 898.4 1098.0 897.0 1098.4 897.9 1098.8 897.3 1099.2 896.9 1099.6 897.9 1100.0 897.8 1100.4 898.7 1100.8 897.0 1101.2 897.9 1101.6 897.7 1102.0 898.6 1102.4 897.7 1102.8 898.4 1103.2 896.8 1103.6 897.7 1104.0 897.6 1104.4 897.8 1104.8 897.5 1105.2 897.8 1105.6 898.5 1106.0 898.4 1106.4 896.7 1106.8 898.0 1107.2 898.6 1107.6 897.3 1108.0 898.5 1108.4 898.3 1108.8 898.5 1109.2 897.2 1109.6 898.4 1110.0 898.2 1110.4 898.4 1110.8 899.3 1111.2 897.6 1111.6 897.6 1112.0 898.8 1112.4 898.4 1112.8 898.3 1113.2 896.3 1113.6 896.9 1114.0 897.2 1114.4 898.0 1114.8 898.0 1115.2 896.3 1115.6 897.5 1116.0 897.8 1116.4 897.5 1116.8 897.9 1117.2 897.8 1117.6 896.6 1118.0 896.5 1118.4 896.4 1118.8 897.2 1119.2 897.1 1119.6 897.4 1120.0 896.7 1120.4 897.8 1120.8 896.7 1121.2 898.5 1121.6 897.2 1122.0 898.8 1122.4 897.3 1122.8 898.7 1123.2 897.7 1123.6 896.8 1124.0 897.9 1124.4 896.9 1124.8 897.5 1125.2 897.2 1125.6 897.3 1126.0 897.7 1126.4 898.5 1126.8 897.4 1127.2 896.4 1127.6 897.3 1128.0 897.3 1128.4 897.7 1128.8 896.6 1129.2 897.4 1129.6 897.3 1130.0 897.6 1130.4 896.8 1130.8 898.4 1131.2 898.1 1131.6 896.5 1132.0 897.3 1132.4 897.5 1132.8 898.0 1133.2 898.3 1133.6 898.0 1134.0 897.9 1134.4 898.0 1134.8 897.5 1135.2 898.2 1135.6 896.4 1136.0 896.2 1136.4 897.5 1136.8 897.9 1137.2 898.2 1137.6 896.2 1138.0 896.7 1138.4 898.2 1138.8 898.3 1139.2 897.9 1139.6 897.9 1140.0 897.8 1140.4 897.4 1140.8 898.3 1141.2 896.9 1141.6 898.5 1142.0 897.4 1142.4 899.0 1142.8 897.2 1143.2 898.6 1143.6 897.9 1144.0 898.0 1144.4 898.0 1144.8 899.2 1145.2 897.7 1145.6 897.7 1146.0 897.4 1146.4 898.7 1146.8 897.1 1147.2 897.5 1147.6 897.5 1148.0 898.5 1148.4 898.9 1148.8 896.9 1149.2 898.8 1149.6 898.0 1150.0 899.1 1150.4 898.0 1150.8 897.8 1151.2 898.1 1151.6 898.2 1152.0 899.7 1152.4 897.7 1152.8 898.5 1153.2 899.1 1153.6 899.2 1154.0 897.0 1154.4 897.1 1154.8 897.8 1155.2 896.2 1155.6 896.6 1156.0 896.5 1156.4 897.1 1156.8 896.2 1157.2 895.6 1157.6 896.4 1158.0 896.6 1158.4 897.1 1158.8 897.3 1159.2 896.0 1159.6 896.9 1160.0 897.3 1160.4 898.1 1160.8 896.3 1161.2 898.0 1161.6 898.2 1162.0 897.8 1162.4 897.5 1162.8 897.5 1163.2 897.7 1163.6 896.7 1164.0 897.6 1164.4 898.5 1164.8 898.0 1165.2 897.4 1165.6 899.1 1166.0 899.4 1166.4 898.8 1166.8 899.0 1167.2 899.6 1167.6 897.8 1168.0 898.9 1168.4 897.4 1168.8 897.8 1169.2 898.3 1169.6 898.5 1170.0 898.1 1170.4 898.9 1170.8 899.1 1171.2 898.4 1171.6 897.6 1172.0 898.0 1172.4 897.6 1172.8 899.7 1173.2 897.7 1173.6 898.5 1174.0 897.9 1174.4 897.5 1174.8 899.1 1175.2 898.0 1175.6 897.1 1176.0 897.2 1176.4 898.7 1176.8 896.6 1177.2 896.5 1177.6 895.9 1178.0 897.0 1178.4 897.5 1178.8 896.8 1179.2 895.5 1179.6 896.7 1180.0 895.0 1180.4 896.1 1180.8 896.3 1181.2 896.0 1181.6 894.9 1182.0 895.4 1182.4 896.5 1182.8 895.6 1183.2 894.9 1183.6 896.3 1184.0 895.8 1184.4 895.1 1184.8 895.2 1185.2 895.2 1185.6 896.9 1186.0 896.6 1186.4 895.8 1186.8 896.8 1187.2 898.0 1187.6 896.4 1188.0 897.1 1188.4 897.5 1188.8 897.0 1189.2 897.9 1189.6 897.0 1190.0 896.7 1190.4 897.4 1190.8 897.4 1191.2 898.4 1191.6 897.1 1192.0 897.0 1192.4 897.4 1192.8 897.1 1193.2 896.4 1193.6 896.4 1194.0 898.3 1194.4 896.9 1194.8 897.4 1195.2 897.3 1195.6 896.1 1196.0 897.6 1196.4 895.8 1196.8 897.8 1197.2 897.1 1197.6 896.5 1198.0 896.3 1198.4 897.1 1198.8 896.6 1199.2 895.8 1199.6 895.7 1200.0 896.5 1200.4 896.9 1200.8 895.6 1201.2 897.8 1201.6 896.1 1202.0 896.7 1202.4 896.2 1202.8 896.8 1203.2 897.4 1203.6 897.8 1204.0 897.0 1204.4 897.8 1204.8 897.3 1205.2 897.8 1205.6 898.3 1206.0 897.5 1206.4 899.4 1206.8 897.4 1207.2 898.8 1207.6 898.2 1208.0 897.1 1208.4 897.1 1208.8 897.9 1209.2 897.6 1209.6 896.6 1210.0 897.9 1210.4 896.2 1210.8 896.2 1211.2 897.2 1211.6 897.0 1212.0 896.2 1212.4 895.7 1212.8 895.9 1213.2 895.7 1213.6 896.7 1214.0 897.8 1214.4 896.9 1214.8 897.7 1215.2 898.0 1215.6 896.4 1216.0 898.3 1216.4 896.9 1216.8 897.8 1217.2 897.4 1217.6 898.4 1218.0 897.8 1218.4 898.0 1218.8 898.8 1219.2 897.2 1219.6 897.9 1220.0 898.5 1220.4 897.5 1220.8 897.5 1221.2 897.3 1221.6 898.3 1222.0 898.1 1222.4 898.8 1222.8 898.3 1223.2 898.1 1223.6 897.3 1224.0 897.4 1224.4 897.9 1224.8 896.6 1225.2 896.5 1225.6 898.4 1226.0 896.6 1226.4 896.3 1226.8 896.6 1227.2 897.4 1227.6 897.1 1228.0 897.7 1228.4 896.7 1228.8 898.6 1229.2 898.0 1229.6 898.4 1230.0 898.8 1230.4 897.8 1230.8 898.2 1231.2 898.8 1231.6 897.7 1232.0 897.5 1232.4 897.6 1232.8 898.8 1233.2 897.9 1233.6 898.0 1234.0 897.0 1234.4 899.1 1234.8 897.3 1235.2 898.4 1235.6 897.2 1236.0 898.6 1236.4 897.4 1236.8 897.5 1237.2 898.2 1237.6 898.3 1238.0 898.1 1238.4 897.6 1238.8 897.4 1239.2 899.3 1239.6 899.2 1240.0 898.1 1240.4 897.9 1240.8 897.7 1241.2 897.5 1241.6 896.9 1242.0 898.9 1242.4 898.2 1242.8 898.0 1243.2 897.6 1243.6 898.0 1244.0 897.7 1244.4 897.9 1244.8 897.8 1245.2 896.6 1245.6 896.0 1246.0 897.0 1246.4 897.1 1246.8 896.6 1247.2 897.4 1247.6 897.1 1248.0 896.1 1248.4 897.6 1248.8 897.6 1249.2 897.1 1249.6 897.5 1250.0 895.8 1250.4 897.9 1250.8 897.4 1251.2 897.3 1251.6 898.3 1252.0 898.0 1252.4 897.4 1252.8 897.4 1253.2 898.3 1253.6 898.8 1254.0 898.6 1254.4 899.1 1254.8 898.7 1255.2 898.5 1255.6 898.3 1256.0 897.8 1256.4 897.4 1256.8 898.1 1257.2 897.0 1257.6 897.0 1258.0 898.0 1258.4 898.5 1258.8 898.5 1259.2 897.2 1259.6 898.5 1260.0 897.1 1260.4 898.3 1260.8 897.7 1261.2 897.4 1261.6 899.3 1262.0 897.7 1262.4 897.9 1262.8 897.6 1263.2 899.7 1263.6 898.3 1264.0 897.6 1264.4 898.1 1264.8 897.7 1265.2 897.3 1265.6 898.9 1266.0 897.8 1266.4 899.2 1266.8 898.0 1267.2 898.1 1267.6 897.0 1268.0 897.6 1268.4 897.3 1268.8 896.9 1269.2 898.5 1269.6 898.4 1270.0 896.8 1270.4 896.8 1270.8 896.9 1271.2 898.2 1271.6 896.4 1272.0 898.4 1272.4 897.8 1272.8 897.6 1273.2 896.4 1273.6 896.9 1274.0 898.4 1274.4 898.2 1274.8 897.0 1275.2 896.6 1275.6 897.7 1276.0 898.3 1276.4 898.2 1276.8 896.3 1277.2 896.4 1277.6 895.9 1278.0 896.3 1278.4 897.9 1278.8 897.0 1279.2 897.7 1279.6 896.4 1280.0 896.1 1280.4 897.7 1280.8 895.8 1281.2 895.7 1281.6 895.8 1282.0 897.4 1282.4 895.9 1282.8 897.6 1283.2 896.6 1283.6 897.3 1284.0 897.9 1284.4 896.6 1284.8 896.7 1285.2 896.9 1285.6 897.7 1286.0 899.1 1286.4 898.0 1286.8 897.7 1287.2 899.2 1287.6 897.8 1288.0 898.4 1288.4 898.6 1288.8 897.9 1289.2 897.6 1289.6 898.3 1290.0 897.9 1290.4 898.9 1290.8 899.3 1291.2 898.7 1291.6 899.2 1292.0 898.3 1292.4 899.2 1292.8 898.3 1293.2 898.9 1293.6 898.0 1294.0 898.4 1294.4 898.1 1294.8 897.7 1295.2 897.0 1295.6 898.3 1296.0 898.4 1296.4 898.3 1296.8 897.6 1297.2 896.9 1297.6 896.8 1298.0 897.0 1298.4 895.6 1298.8 897.0 1299.2 896.1 1299.6 897.1 1300.0 895.6 1300.4 896.0 1300.8 895.7 1301.2 897.2 1301.6 895.7 1302.0 897.7 1302.4 897.9 1302.8 898.0 1303.2 896.6 1303.6 898.6 1304.0 898.6 1304.4 898.6 1304.8 897.9 1305.2 898.1 1305.6 898.1 1306.0 898.9 1306.4 899.0 1306.8 898.5 1307.2 899.0 1307.6 898.6 1308.0 898.8 1308.4 899.0 1308.8 899.0 1309.2 898.8 1309.6 898.2 1310.0 898.2 1310.4 897.8 1310.8 897.3 1311.2 899.2 1311.6 897.5 1312.0 899.3 1312.4 899.1 1312.8 898.4 1313.2 898.8 1313.6 899.0 1314.0 899.4 1314.4 897.5 1314.8 897.6 1315.2 899.1 1315.6 898.6 1316.0 899.1 1316.4 898.2 1316.8 899.0 1317.2 898.5 1317.6 898.6 1318.0 897.7 1318.4 897.8 1318.8 898.6 1319.2 897.9 1319.6 896.9 1320.0 897.3 1320.4 898.4 1320.8 896.7 1321.2 897.1 1321.6 896.9 1322.0 896.1 1322.4 897.4 1322.8 897.9 1323.2 896.8 1323.6 896.2 1324.0 897.1 1324.4 897.8 1324.8 897.8 1325.2 897.1 1325.6 898.8 1326.0 899.0 1326.4 897.3 1326.8 897.1 1327.2 898.9 1327.6 898.0 1328.0 898.9 1328.4 897.4 1328.8 896.9 1329.2 897.7 1329.6 898.5 1330.0 897.0 1330.4 898.1 1330.8 896.8 1331.2 898.4 1331.6 899.0 1332.0 897.5 1332.4 899.1 1332.8 899.3 1333.2 898.8 1333.6 898.7 1334.0 898.8 1334.4 899.7 1334.8 897.9 1335.2 899.3 1335.6 898.0 1336.0 899.2 1336.4 898.1 1336.8 898.1 1337.2 899.2 1337.6 897.8 1338.0 898.1 1338.4 898.9 1338.8 897.5 1339.2 897.1 1339.6 898.3 1340.0 897.4 1340.4 898.2 1340.8 898.4 1341.2 899.0 1341.6 898.5 1342.0 898.8 1342.4 900.4 1342.8 900.6 1343.2 899.2 1343.6 899.1 1344.0 899.4 1344.4 900.0 1344.8 899.1 1345.2 898.4 1345.6 899.2 1346.0 900.3 1346.4 899.9 1346.8 898.9 1347.2 898.5 1347.6 899.8 1348.0 898.8 1348.4 899.5 1348.8 898.4 1349.2 897.5 1349.6 899.7 1350.0 899.2 1350.4 899.1 1350.8 899.0 1351.2 899.4 1351.6 897.8 1352.0 899.6 1352.4 898.6 1352.8 898.5 1353.2 898.8 1353.6 899.0 1354.0 899.1 1354.4 898.2 1354.8 897.2 1355.2 897.0 1355.6 898.3 1356.0 897.9 1356.4 896.8 1356.8 896.0 1357.2 896.7 1357.6 895.9 1358.0 896.4 1358.4 896.0 1358.8 895.8 1359.2 895.8 1359.6 895.5 1360.0 897.5 1360.4 895.3 1360.8 897.7 1361.2 897.7 1361.6 897.7 1362.0 897.2 1362.4 897.7 1362.8 898.1 1363.2 896.7 1363.6 897.6 1364.0 898.2 1364.4 896.5 1364.8 898.0 1365.2 896.5 1365.6 896.3 1366.0 896.2 1366.4 898.1 1366.8 897.1 1367.2 897.4 1367.6 896.6 1368.0 897.2 1368.4 896.7 1368.8 896.3 1369.2 896.7 1369.6 897.5 1370.0 896.1 1370.4 897.7 1370.8 897.9 1371.2 896.5 1371.6 896.9 1372.0 896.7 1372.4 896.1 1372.8 896.6 1373.2 896.0 1373.6 897.4 1374.0 896.9 1374.4 897.7 1374.8 896.8 1375.2 898.4 1375.6 898.8 1376.0 898.0 1376.4 898.4 1376.8 898.2 1377.2 898.7 1377.6 897.4 1378.0 897.7 1378.4 898.3 1378.8 898.5 1379.2 898.4 1379.6 896.8 1380.0 897.5 1380.4 898.6 1380.8 897.7 1381.2 898.7 1381.6 897.8 1382.0 897.5 1382.4 897.7 1382.8 899.5 1383.2 897.4 1383.6 897.3 1384.0 898.9 1384.4 897.3 1384.8 896.7 1385.2 898.4 1385.6 896.8 1386.0 897.7 1386.4 897.7 1386.8 897.3 1387.2 897.4 1387.6 898.0 1388.0 896.6 1388.4 897.0 1388.8 896.8 1389.2 896.4 1389.6 896.5 1390.0 897.6 1390.4 897.5 1390.8 897.8 1391.2 897.6 1391.6 896.3 1392.0 897.0 1392.4 895.9 1392.8 895.0 1393.2 894.8 1393.6 894.8 1394.0 896.7 1394.4 894.9 1394.8 896.2 1395.2 896.3 1395.6 896.9 1396.0 894.6 1396.4 895.9 1396.8 896.2 1397.2 894.7 1397.6 896.9 1398.0 896.3 1398.4 895.4 1398.8 894.9 1399.2 897.2 1399.6 895.1 1400.0 895.3 1400.4 896.1 1400.8 897.7 1401.2 896.1 1401.6 896.1 1402.0 895.7 1402.4 896.7 1402.8 895.8 1403.2 896.4 1403.6 898.2 1404.0 897.3 1404.4 897.0 1404.8 898.2 1405.2 896.8 1405.6 897.3 1406.0 897.3 1406.4 897.2 1406.8 897.6 1407.2 896.3 1407.6 897.3 1408.0 896.8 1408.4 896.0 1408.8 896.7 1409.2 897.3" stroke="#FF0000" stroke-width="5.6"/>
<rect x="247.8" y="30.0" width="6.4" height="543.0" rx="2.8" fill="#008000" stroke="none"/><rect x="252.4" y="30.0" width="5.4" height="383.0" rx="2.8" fill="#008000" stroke="none"/><rect x="256.1" y="30.0" width="6.8" height="310.6" rx="2.8" fill="#008000" stroke="none"/><rect x="261.2" y="30.0" width="10.4" height="327.4" rx="2.8" fill="#008000" stroke="none"/><rect x="269.9" y="30.0" width="8.9" height="272.0" rx="2.8" fill="#008000" stroke="none"/><rect x="277.1" y="30.0" width="6.7" height="188.5" rx="2.8" fill="#008000" stroke="none"/><rect x="282.1" y="30.0" width="3.9" height="233.6" rx="2.8" fill="#008000" stroke="none"/><rect x="284.6" y="72.0" width="5.9" height="191.6" rx="2.8" fill="#008000" stroke="none"/><rect x="288.8" y="72.0" width="3.6" height="213.4" rx="2.8" fill="#008000" stroke="none"/><rect x="291.0" y="30.0" width="4.5" height="255.4" rx="2.8" fill="#008000" stroke="none"/><rect x="293.8" y="30.0" width="3.2" height="280.5" rx="2.8" fill="#008000" stroke="none"/><rect x="295.4" y="104.0" width="7.7" height="206.5" rx="2.8" fill="#008000" stroke="none"/><rect x="301.4" y="151.0" width="8.2" height="174.0" rx="2.8" fill="#008000" stroke="none"/><rect x="304.4" y="280.0" width="8.2" height="65.0" rx="2.8" fill="#008000" stroke="none"/><rect x="234.7" y="398.0" width="15.4" height="175.0" rx="2.8" fill="#008000" stroke="none"/><rect x="242.7" y="317.0" width="7.4" height="83.0" rx="2.8" fill="#008000" stroke="none"/><rect x="234.1" y="560.0" width="19.0" height="12.0" rx="2.8" fill="#008000" stroke="none"/><rect x="234.1" y="560.0" width="16.5" height="44.6" rx="2.8" fill="#008000" stroke="none"/><rect x="229.6" y="600.0" width="16.0" height="176.8" rx="2.8" fill="#008000" stroke="none"/><rect x="230.9" y="770.0" width="10.7" height="67.2" rx="2.8" fill="#008000" stroke="none"/><rect x="213.9" y="664.0" width="18.7" height="241.0" rx="2.8" fill="#008000" stroke="none"/><rect x="224.4" y="664.0" width="10.2" height="36.0" rx="2.8" fill="#008000" stroke="none"/>
<rect x="270.6" y="44" width="1.1" height="116" fill="#fff"/>
<path d="M312.0 320.1 312.4 291.9 312.8 331.7 313.2 344.9 313.6 315.5 314.0 378.8 314.4 381.0 314.8 365.1 315.2 373.1 315.6 355.9 316.0 408.7 316.4 404.6 316.8 405.1 317.2 414.8 317.6 407.3 318.0 398.4 318.4 408.0 318.8 396.3 319.2 421.7 319.6 394.7 320.0 405.2 320.4 403.5 320.8 414.5 321.2 394.0 321.6 398.7 322.0 428.4 322.4 402.6 322.8 410.5 323.2 406.1 323.6 436.4 324.0 415.0 324.4 435.5 324.8 428.8 325.2 428.9 325.6 434.2 326.0 440.5 326.4 435.7 326.8 444.8 327.2 450.0 327.6 449.1 328.0 450.6 328.4 443.5 328.8 468.7 329.2 464.2 329.6 474.0 330.0 492.5 330.4 496.7 330.8 469.5 331.2 499.0 331.6 486.1 332.0 483.3 332.4 477.2 332.8 485.1 333.2 505.2 333.6 496.0 334.0 501.6 334.4 512.3 334.8 512.2 335.2 489.9 335.6 490.2 336.0 509.5 336.4 497.9 336.8 500.1 337.2 511.9 337.6 511.1 338.0 532.3 338.4 527.9 338.8 517.2 339.2 544.3 339.6 522.8 340.0 522.4 340.4 545.4 340.8 522.4 341.2 534.9 341.6 539.6 342.0 533.2 342.4 546.6 342.8 530.5 343.2 552.6 343.6 536.0 344.0 541.4 344.4 546.0 344.8 551.8 345.2 553.7 345.6 554.5 346.0 549.2 346.4 551.3 346.8 559.7 347.2 555.2 347.6 558.9 348.0 568.8 348.4 567.6 348.8 571.1 349.2 571.9 349.6 577.5 350.0 578.0 350.4 572.9 350.8 577.3 351.2 581.4 351.6 583.6 352.0 586.2 352.4 587.2 352.8 589.8 353.2 594.2 353.6 600.1 354.0 599.6 354.4 597.3 354.8 601.1 355.2 603.4 355.6 601.4 356.0 610.7 356.4 615.0 356.8 617.5 357.2 614.0 357.6 620.3 358.0 619.5 358.4 625.8 358.8 624.5 359.2 625.6 359.6 623.5 360.0 626.5 360.4 623.9 360.8 628.2 361.2 631.6 361.6 629.5 362.0 629.8 362.4 632.6 362.8 630.8 363.2 637.8 363.6 637.0 364.0 638.3 364.4 639.7 364.8 639.8 365.2 640.5 365.6 641.7 366.0 639.9 366.4 641.5 366.8 640.9 367.2 643.8 367.6 646.8 368.0 648.9 368.4 649.7 368.8 646.3 369.2 650.7 369.6 648.4 370.0 652.6 370.4 654.8 370.8 652.5 371.2 656.1 371.6 653.6 372.0 658.5 372.4 657.7 372.8 660.0 373.2 658.0 373.6 663.7 374.0 665.1 374.4 666.8 374.8 665.2 375.2 668.6 375.6 667.9 376.0 667.5 376.4 669.5 376.8 672.4 377.2 669.5 377.6 673.1 378.0 673.9 378.4 675.4 378.8 676.1 379.2 676.8 379.6 676.8 380.0 677.9 380.4 677.3 380.8 677.2 381.2 679.2 381.6 681.4 382.0 679.2 382.4 680.4 382.8 683.7 383.2 684.7 383.6 684.0 384.0 686.1 384.4 683.9 384.8 685.5 385.2 689.3 385.6 688.8 386.0 687.6 386.4 691.5 386.8 690.0 387.2 690.5 387.6 692.5 388.0 694.1 388.4 693.6 388.8 693.4 389.2 695.3 389.6 695.2 390.0 695.9 390.4 697.4 390.8 695.6 391.2 697.8 391.6 697.5 392.0 698.0 392.4 696.2 392.8 698.6 393.2 697.4 393.6 697.5 394.0 698.1 394.4 699.5 394.8 699.3 395.2 701.6 395.6 699.8 396.0 701.6 396.4 700.4 396.8 702.1 397.2 701.5 397.6 704.0 398.0 704.7 398.4 703.4 398.8 703.8 399.2 705.2 399.6 706.0 400.0 704.5 400.4 705.0 400.8 704.7 401.2 705.5 401.6 705.8 402.0 708.3 402.4 706.4 402.8 709.2 403.2 708.5 403.6 709.0 404.0 709.4 404.4 708.6 404.8 709.7 405.2 710.0 405.6 710.7 406.0 710.0 406.4 710.9 406.8 711.4 407.2 712.7 407.6 713.4 408.0 714.2 408.4 712.9 408.8 713.0 409.2 713.6 409.6 713.8 410.0 713.9 410.4 713.8 410.8 714.5 411.2 715.1 411.6 714.4 412.0 714.3 412.4 715.5 412.8 715.8 413.2 716.0 413.6 715.4 414.0 715.8 414.4 716.5 414.8 715.7 415.2 716.9 415.6 717.3 416.0 717.4 416.4 717.8 416.8 718.4 417.2 717.9 417.6 718.0 418.0 718.5 418.4 718.7 418.8 718.1 419.2 719.2 419.6 719.7 420.0 719.3 420.4 719.8 420.8 720.3 421.2 719.9 421.6 720.1 422.0 719.3 422.4 719.9 422.8 720.8 423.2 720.1 423.6 720.1 424.0 720.5 424.4 721.8 424.8 721.7 425.2 721.0 425.6 722.7 426.0 722.3 426.4 722.7 426.8 722.4 427.2 722.9 427.6 723.3 428.0 723.2 428.4 722.9 428.8 723.2 429.2 723.5 429.6 723.9 430.0 724.0 430.4 723.8 430.8 724.0 431.2 724.5 431.6 724.9 432.0 725.4 432.4 724.4 432.8 724.9 433.2 724.6 433.6 726.0 434.0 725.8 434.4 725.1 434.8 726.3 435.2 726.5 435.6 726.5 436.0 727.0 436.4 726.8 436.8 726.2 437.2 726.4 437.6 727.5 438.0 726.5 438.4 727.6 438.8 727.4 439.2 727.3 439.6 728.7 440.0 728.3 440.4 728.0 440.8 728.4 441.2 729.8 441.6 729.8 442.0 729.1 442.4 730.8 442.8 730.2 443.2 730.8 443.6 731.0 444.0 731.3 444.4 731.8 444.8 731.0 445.2 731.8 445.6 730.6 446.0 731.9 446.4 732.1 446.8 730.9 447.2 732.1 447.6 730.7 448.0 731.3 448.4 731.1 448.8 731.8 449.2 731.5 449.6 731.0 450.0 731.0 450.4 730.9 450.8 732.0 451.2 732.4 451.6 731.4 452.0 732.2 452.4 731.7 452.8 732.2 453.2 733.3 453.6 733.5 454.0 732.9 454.4 732.9 454.8 732.7 455.2 732.1 455.6 732.2 456.0 731.9 456.4 732.3 456.8 731.5 457.2 732.2 457.6 731.4 458.0 731.3 458.4 731.6 458.8 732.4 459.2 731.9 459.6 731.7 460.0 732.0 460.4 731.4 460.8 732.1 461.2 731.7 461.6 731.5 462.0 731.2 462.4 732.1 462.8 732.0 463.2 731.4 463.6 731.5 464.0 731.3 464.4 731.0 464.8 732.1 465.2 731.1 465.6 731.1 466.0 732.1 466.4 731.0 466.8 730.8 467.2 730.6 467.6 730.6 468.0 731.6 468.4 731.0 468.8 730.5 469.2 731.1 469.6 731.1 470.0 730.6 470.4 729.3 470.8 730.1 471.2 730.3 471.6 730.0 472.0 728.6 472.4 728.6 472.8 729.1 473.2 727.9 473.6 728.7 474.0 727.8 474.4 729.1 474.8 729.0 475.2 729.3 475.6 728.9 476.0 729.1 476.4 728.9 476.8 729.2 477.2 729.3 477.6 729.3 478.0 728.3 478.4 729.2 478.8 728.7 479.2 728.7 479.6 728.2 480.0 728.9 480.4 728.2 480.8 729.3 481.2 728.8 481.6 729.1 482.0 728.3 482.4 728.9 482.8 729.6 483.2 729.2 483.6 728.5 484.0 729.2 484.4 728.8 484.8 729.9 485.2 730.0 485.6 729.0 486.0 729.2 486.4 728.3 486.8 728.5 487.2 728.9 487.6 727.8 488.0 727.6 488.4 728.0 488.8 728.2 489.2 727.5 489.6 726.9 490.0 727.4 490.4 727.3 490.8 726.9 491.2 726.9 491.6 726.1 492.0 726.5 492.4 726.3 492.8 726.9 493.2 725.8 493.6 725.2 494.0 725.9 494.4 725.2 494.8 725.9 495.2 725.3 495.6 724.8 496.0 725.0 496.4 725.1 496.8 724.3 497.2 724.6 497.6 723.5 498.0 724.0 498.4 723.6 498.8 724.2 499.2 723.6 499.6 723.6 500.0 723.3 500.4 723.8 500.8 723.1 501.2 723.5 501.6 721.9 502.0 722.5 502.4 722.8 502.8 722.0 503.2 722.4 503.6 721.0 504.0 720.7 504.4 720.9 504.8 720.7 505.2 721.1 505.6 720.2 506.0 719.9 506.4 720.1 506.8 719.9 507.2 718.9 507.6 719.3 508.0 718.5 508.4 719.4 508.8 719.1 509.2 718.9 509.6 718.9 510.0 717.9 510.4 717.6 510.8 718.2 511.2 717.7 511.6 717.6 512.0 717.2 512.4 716.8 512.8 718.1 513.2 717.5 513.6 717.2 514.0 717.4 514.4 717.3 514.8 717.9 515.2 716.8 515.6 717.3 516.0 716.7 516.4 717.9 516.8 717.1 517.2 716.2 517.6 716.6 518.0 715.9 518.4 717.1 518.8 716.9 519.2 715.9 519.6 716.0 520.0 716.1 520.4 714.5 520.8 714.4 521.2 713.8 521.6 712.8 522.0 712.9 522.4 712.0 522.8 711.6 523.2 711.0 523.6 710.8 524.0 710.9 524.4 710.0 524.8 709.4 525.2 709.6 525.6 709.4 526.0 709.0 526.4 708.7 526.8 708.1 527.2 707.3 527.6 707.6 528.0 707.3 528.4 705.9 528.8 706.0 529.2 705.0 529.6 705.1 530.0 704.8 530.4 703.2 530.8 703.5 531.2 702.4 531.6 703.2 532.0 702.5 532.4 702.3 532.8 701.9 533.2 700.7 533.6 701.1 534.0 700.5 534.4 700.2 534.8 700.6 535.2 700.0 535.6 699.5 536.0 699.4 536.4 699.5 536.8 699.4 537.2 697.7 537.6 698.0 538.0 698.4 538.4 697.2 538.8 697.6 539.2 696.5 539.6 696.4 540.0 695.9 540.4 695.7 540.8 695.5 541.2 695.7 541.6 695.5 542.0 694.2 542.4 694.8 542.8 693.8 543.2 694.8 543.6 693.2 544.0 694.3 544.4 693.0 544.8 693.5 545.2 692.7 545.6 692.0 546.0 692.6 546.4 691.2 546.8 691.0 547.2 690.7 547.6 690.6 548.0 689.8 548.4 690.0 548.8 689.5 549.2 688.7 549.6 688.5 550.0 688.3 550.4 688.0 550.8 688.2 551.2 688.2 551.6 686.7 552.0 686.4 552.4 686.1 552.8 685.5 553.2 685.9 553.6 685.4 554.0 684.5 554.4 683.5 554.8 682.9 555.2 682.3 555.6 682.2 556.0 681.0 556.4 681.5 556.8 680.9 557.2 680.6 557.6 679.8 558.0 679.8 558.4 678.8 558.8 679.0 559.2 678.5 559.6 677.6 560.0 677.3 560.4 675.6 560.8 676.2 561.2 675.7 561.6 674.1 562.0 674.6 562.4 672.8 562.8 673.7 563.2 672.7 563.6 672.2 564.0 671.3 564.4 670.9 564.8 671.5 565.2 669.8 565.6 669.5 566.0 669.6 566.4 669.2 566.8 669.4 567.2 669.1 567.6 668.7 568.0 667.6 568.4 667.7 568.8 668.1 569.2 666.7 569.6 666.6 570.0 666.0 570.4 666.2 570.8 665.8 571.2 664.8 571.6 665.1 572.0 663.7 572.4 663.7 572.8 663.4 573.2 663.3 573.6 662.7 574.0 662.6 574.4 661.9 574.8 661.1 575.2 661.5 575.6 660.1 576.0 660.5 576.4 659.8 576.8 660.0 577.2 659.2 577.6 659.3 578.0 658.6 578.4 657.7 578.8 657.8 579.2 658.2 579.6 656.9 580.0 657.5 580.4 657.1 580.8 656.4 581.2 656.7 581.6 655.3 582.0 655.2 582.4 654.8 582.8 654.9 583.2 654.8 583.6 654.1 584.0 654.3 584.4 653.1 584.8 653.2 585.2 651.9 585.6 652.0 586.0 651.5 586.4 651.6 586.8 651.9 587.2 651.3 587.6 651.5 588.0 651.2 588.4 649.9 588.8 649.7 589.2 649.3 589.6 648.9 590.0 649.9 590.4 648.6 590.8 649.6 591.2 648.5 591.6 648.1 592.0 648.5 592.4 647.8 592.8 647.4 593.2 647.1 593.6 648.1 594.0 647.2 594.4 647.3 594.8 647.1 595.2 646.0 595.6 646.0 596.0 645.9 596.4 646.7 596.8 645.7 597.2 645.9 597.6 644.9 598.0 645.1 598.4 645.6 598.8 644.5 599.2 644.7 599.6 644.0 600.0 644.1 600.4 643.5 600.8 643.3 601.2 644.4 601.6 642.9 602.0 642.9 602.4 643.5 602.8 642.3 603.2 642.8 603.6 642.2 604.0 643.2 604.4 642.5 604.8 642.7 605.2 643.1 605.6 642.2 606.0 642.3 606.4 642.6 606.8 643.2 607.2 642.6 607.6 641.9 608.0 642.3 608.4 642.5 608.8 641.6 609.2 642.3 609.6 641.9 610.0 641.0 610.4 640.7 610.8 641.5 611.2 641.6 611.6 641.1 612.0 641.5 612.4 640.9 612.8 640.9 613.2 641.1 613.6 639.9 614.0 640.3 614.4 639.4 614.8 640.0 615.2 639.7 615.6 638.9 616.0 638.2 616.4 637.8 616.8 637.4 617.2 637.1 617.6 637.0 618.0 636.2 618.4 636.5 618.8 636.7 619.2 635.3 619.6 636.2 620.0 634.9 620.4 635.5 620.8 634.1 621.2 635.2 621.6 634.6 622.0 634.1 622.4 633.6 622.8 634.5 623.2 634.3 623.6 633.8 624.0 632.6 624.4 632.4 624.8 633.1 625.2 632.5 625.6 633.2 626.0 632.1 626.4 632.4 626.8 631.8 627.2 632.6 627.6 631.2 628.0 632.1 628.4 631.0 628.8 631.3 629.2 630.6 629.6 631.1 630.0 630.8 630.4 630.2 630.8 628.9 631.2 629.6 631.6 628.8 632.0 628.6 632.4 628.2 632.8 627.1 633.2 627.1 633.6 626.4 634.0 627.4 634.4 626.8 634.8 626.2 635.2 625.7 635.6 624.9 636.0 624.8 636.4 625.3 636.8 624.4 637.2 624.3 637.6 623.7 638.0 623.8 638.4 624.5 638.8 623.3 639.2 623.9 639.6 623.6 640.0 623.0 640.4 622.8 640.8 623.0 641.2 622.2 641.6 623.7 642.0 623.6 642.4 622.9 642.8 623.0 643.2 622.7 643.6 622.4 644.0 623.6 644.4 622.6 644.8 622.7 645.2 623.6 645.6 622.7 646.0 622.6 646.4 622.5 646.8 623.3 647.2 622.6 647.6 622.8 648.0 622.4 648.4 623.4 648.8 623.4 649.2 624.1 649.6 624.6 650.0 624.4 650.4 625.1 650.8 624.5 651.2 625.4 651.6 626.5 652.0 625.7 652.4 627.2 652.8 627.4 653.2 628.2 653.6 627.5 654.0 627.4 654.4 628.6 654.8 628.2 655.2 629.1 655.6 629.6 656.0 629.5 656.4 629.2 656.8 629.6 657.2 630.5 657.6 630.6 658.0 630.8 658.4 631.3 658.8 632.8 659.2 632.3 659.6 632.8 660.0 633.4 660.4 635.2 660.8 635.3 661.2 635.4 661.6 635.3 662.0 636.6 662.4 636.2 662.8 636.9 663.2 638.1 663.6 638.0 664.0 639.5 664.4 639.4 664.8 640.8 665.2 641.1 665.6 641.9 666.0 643.0 666.4 643.5 666.8 643.1 667.2 645.2 667.6 645.8 668.0 645.8 668.4 647.1 668.8 647.6 669.2 648.7 669.6 649.2 670.0 649.5 670.4 651.0 670.8 650.8 671.2 652.1 671.6 652.6 672.0 652.8 672.4 654.1 672.8 654.5 673.2 656.4 673.6 657.5 674.0 658.8 674.4 658.7 674.8 659.9 675.2 661.4 675.6 662.0 676.0 663.9 676.4 665.2 676.8 665.6 677.2 666.4 677.6 668.1 678.0 669.5 678.4 669.3 678.8 670.4 679.2 671.8 679.6 671.2 680.0 672.6 680.4 673.2 680.8 673.8 681.2 675.3 681.6 676.0 682.0 675.8 682.4 676.9 682.8 677.5 683.2 678.1 683.6 678.6 684.0 679.9 684.4 680.2 684.8 681.1 685.2 681.5 685.6 682.9 686.0 682.5 686.4 684.5 686.8 685.3 687.2 685.8 687.6 686.9 688.0 686.7 688.4 688.0 688.8 689.8 689.2 690.0 689.6 690.9 690.0 692.1 690.4 693.3 690.8 693.9 691.2 693.6 691.6 694.1 692.0 695.3 692.4 695.8 692.8 697.1 693.2 697.5 693.6 697.9 694.0 698.5 694.4 700.2 694.8 700.7 695.2 701.5 695.6 701.4 696.0 702.5 696.4 702.4 696.8 703.3 697.2 704.7 697.6 705.4 698.0 705.8 698.4 705.9 698.8 706.8 699.2 706.5 699.6 707.6 700.0 708.1 700.4 707.9 700.8 707.9 701.2 708.7 701.6 709.3 702.0 710.0 702.4 710.5 702.8 711.4 703.2 711.9 703.6 711.8 704.0 712.6 704.4 712.0 704.8 713.4 705.2 713.6 705.6 713.8 706.0 713.9 706.4 715.7 706.8 715.9 707.2 717.0 707.6 717.9 708.0 717.9 708.4 717.5 708.8 718.3 709.2 719.9 709.6 719.8 710.0 719.5 710.4 720.9 710.8 720.0 711.2 721.4 711.6 720.8 712.0 721.1 712.4 721.7 712.8 721.4 713.2 722.5 713.6 722.3 714.0 722.7 714.4 723.1 714.8 722.8 715.2 723.5 715.6 724.3 716.0 723.3 716.4 724.2 716.8 724.4 717.2 724.8 717.6 725.8 718.0 726.6 718.4 726.3 718.8 725.9 719.2 726.4 719.6 726.9 720.0 727.3 720.4 727.8 720.8 728.2 721.2 728.0 721.6 728.4 722.0 727.7 722.4 728.5 722.8 728.6 723.2 728.5 723.6 728.7 724.0 730.1 724.4 730.0 724.8 729.5 725.2 729.6 725.6 730.9 726.0 730.7 726.4 730.3 726.8 731.5 727.2 731.0 727.6 731.9 728.0 732.3 728.4 731.3 728.8 731.8 729.2 731.3 729.6 731.7 730.0 732.0 730.4 732.6 730.8 732.1 731.2 733.2 731.6 732.9 732.0 733.5 732.4 733.9 732.8 733.3 733.2 734.0 733.6 733.1 734.0 734.3 734.4 734.0 734.8 733.8 735.2 735.1 735.6 734.9 736.0 735.3 736.4 734.7 736.8 735.1 737.2 734.7 737.6 735.4 738.0 736.2 738.4 736.1 738.8 736.5 739.2 736.2 739.6 735.3 740.0 735.6 740.4 736.8 740.8 736.8 741.2 736.1 741.6 737.1 742.0 736.1 742.4 737.4 742.8 736.2 743.2 736.2 743.6 736.3 744.0 737.7 744.4 737.1 744.8 737.7 745.2 737.7 745.6 737.8 746.0 737.1 746.4 737.1 746.8 738.0 747.2 738.7 747.6 738.4 748.0 737.5 748.4 738.1 748.8 738.8 749.2 737.8 749.6 737.7 750.0 738.6 750.4 738.7 750.8 739.3 751.2 738.6 751.6 739.6 752.0 739.4 752.4 739.8 752.8 738.9 753.2 738.9 753.6 740.1 754.0 739.6 754.4 740.2 754.8 739.8 755.2 739.8 755.6 740.6 756.0 740.7 756.4 739.5 756.8 740.7 757.2 739.8 757.6 739.9 758.0 740.5 758.4 740.9 758.8 741.4 759.2 740.8 759.6 741.9 760.0 741.3 760.4 741.6 760.8 741.5 761.2 741.9 761.6 741.9 762.0 743.0 762.4 742.0 762.8 742.8 763.2 742.7 763.6 743.5 764.0 742.7 764.4 742.6 764.8 743.9 765.2 743.3 765.6 743.2 766.0 743.5 766.4 744.9 766.8 744.3 767.2 745.4 767.6 745.9 768.0 745.6 768.4 745.7 768.8 746.4 769.2 746.4 769.6 746.1 770.0 746.2 770.4 747.1 770.8 747.4 771.2 747.9 771.6 747.4 772.0 747.3 772.4 748.5 772.8 747.8 773.2 748.7 773.6 749.5 774.0 749.1 774.4 749.0 774.8 748.8 775.2 750.0 775.6 749.3 776.0 750.3 776.4 750.7 776.8 750.4 777.2 750.8 777.6 750.2 778.0 750.4 778.4 751.4 778.8 750.6 779.2 750.7 779.6 750.9 780.0 750.9 780.4 752.4 780.8 752.2 781.2 751.4 781.6 753.0 782.0 752.8 782.4 753.0 782.8 752.4 783.2 753.6 783.6 754.0 784.0 753.7 784.4 753.4 784.8 754.4 785.2 754.6 785.6 755.2 786.0 754.9 786.4 755.7 786.8 756.3 787.2 756.1 787.6 756.0 788.0 757.1 788.4 756.8 788.8 757.2 789.2 758.3 789.6 758.0 790.0 759.0 790.4 758.4 790.8 758.9 791.2 759.5 791.6 759.2 792.0 759.8 792.4 760.4 792.8 759.9 793.2 759.9 793.6 760.6 794.0 761.8 794.4 762.1 794.8 762.4 795.2 761.8 795.6 762.2 796.0 762.6 796.4 762.7 796.8 764.1 797.2 763.0 797.6 764.1 798.0 764.8 798.4 764.5 798.8 765.0 799.2 765.6 799.6 765.3 800.0 764.8 800.4 765.6 800.8 765.8 801.2 766.5 801.6 766.1 802.0 767.7 802.4 767.0 802.8 767.6 803.2 767.6 803.6 768.0 804.0 768.5 804.4 768.7 804.8 769.8 805.2 769.1 805.6 770.1 806.0 771.2 806.4 771.1 806.8 771.5 807.2 772.0 807.6 772.4 808.0 772.6 808.4 772.2 808.8 773.7 809.2 773.7 809.6 773.6 810.0 774.2 810.4 775.0 810.8 774.5 811.2 775.3 811.6 776.1 812.0 776.7 812.4 777.0 812.8 777.7 813.2 777.6 813.6 777.0 814.0 777.7 814.4 777.4 814.8 778.6 815.2 778.8 815.6 778.0 816.0 778.3 816.4 778.6 816.8 779.3 817.2 778.9 817.6 780.2 818.0 780.5 818.4 780.1 818.8 780.1 819.2 780.1 819.6 781.4 820.0 782.1 820.4 782.7 820.8 782.4 821.2 783.6 821.6 783.3 822.0 783.4 822.4 783.7 822.8 784.0 823.2 784.6 823.6 784.8 824.0 785.3 824.4 785.5 824.8 785.4 825.2 785.7 825.6 786.8 826.0 787.3 826.4 786.7 826.8 787.4 827.2 787.3 827.6 788.1 828.0 788.8 828.4 789.4 828.8 789.6 829.2 789.6 829.6 790.1 830.0 790.0 830.4 790.1 830.8 791.3 831.2 790.5 831.6 791.7 832.0 791.4 832.4 792.8 832.8 792.6 833.2 794.1 833.6 794.5 834.0 794.8 834.4 795.0 834.8 795.6 835.2 796.2 835.6 795.7 836.0 797.3 836.4 797.0 836.8 798.3 837.2 797.6 837.6 797.9 838.0 799.2 838.4 799.9 838.8 800.3 839.2 801.1 839.6 800.6 840.0 800.8 840.4 801.9 840.8 801.7 841.2 802.8 841.6 803.2 842.0 804.2 842.4 804.8 842.8 804.3 843.2 805.8 843.6 806.0 844.0 805.6 844.4 806.3 844.8 807.2 845.2 806.6 845.6 807.2 846.0 807.8 846.4 807.7 846.8 808.6 847.2 808.9 847.6 809.0 848.0 810.0 848.4 809.4 848.8 810.7 849.2 810.1 849.6 811.3 850.0 811.4 850.4 811.8 850.8 812.3 851.2 813.0 851.6 813.8 852.0 814.5 852.4 815.1 852.8 815.0 853.2 816.7 853.6 816.5 854.0 817.3 854.4 816.7 854.8 818.0 855.2 817.6 855.6 817.9 856.0 819.7 856.4 819.1 856.8 819.5 857.2 819.9 857.6 821.1 858.0 821.8 858.4 822.2 858.8 822.2 859.2 823.4 859.6 823.0 860.0 823.6 860.4 823.6 860.8 824.6 861.2 825.0 861.6 826.2 862.0 826.9 862.4 826.2 862.8 827.6 863.2 827.2 863.6 828.2 864.0 828.1 864.4 828.0 864.8 828.0 865.2 828.7 865.6 829.5 866.0 828.7 866.4 830.5 866.8 830.5 867.2 831.1 867.6 831.6 868.0 831.4 868.4 832.4 868.8 832.8 869.2 833.1 869.6 834.0 870.0 834.1 870.4 834.0 870.8 833.9 871.2 835.7 871.6 835.3 872.0 836.3 872.4 837.2 872.8 836.8 873.2 837.3 873.6 837.2 874.0 838.7 874.4 838.5 874.8 839.2 875.2 839.6 875.6 839.2 876.0 838.7 876.4 839.7 876.8 840.4 877.2 841.1 877.6 840.3 878.0 841.6 878.4 842.1 878.8 841.4 879.2 843.2 879.6 843.4 880.0 843.3 880.4 844.3 880.8 843.9 881.2 844.5 881.6 844.7 882.0 846.2 882.4 845.7 882.8 846.3 883.2 847.3 883.6 847.5 884.0 847.7 884.4 847.4 884.8 847.7 885.2 849.3 885.6 849.5 886.0 849.1 886.4 850.0 886.8 850.1 887.2 850.6 887.6 850.8 888.0 851.7 888.4 851.1 888.8 851.1 889.2 852.1 889.6 852.2 890.0 852.8 890.4 853.4 890.8 853.6 891.2 853.0 891.6 852.6 892.0 854.0 892.4 854.5 892.8 854.0 893.2 854.9 893.6 854.3 894.0 854.4 894.4 855.1 894.8 855.5 895.2 856.2 895.6 855.9 896.0 857.0 896.4 857.1 896.8 858.3 897.2 858.4 897.6 858.1 898.0 858.9 898.4 858.6 898.8 858.7 899.2 859.6 899.6 859.9 900.0 859.4 900.4 859.8 900.8 860.1 901.2 860.8 901.6 860.5 902.0 861.5 902.4 862.5 902.8 862.5 903.2 861.9 903.6 863.2 904.0 863.5 904.4 863.5 904.8 864.4 905.2 864.4 905.6 864.4 906.0 864.5 906.4 864.6 906.8 865.6 907.2 864.8 907.6 865.6 908.0 866.0 908.4 866.8 908.8 866.4 909.2 866.3 909.6 866.8 910.0 867.3 910.4 866.8 910.8 867.2 911.2 867.3 911.6 867.7 912.0 867.2 912.4 868.4 912.8 867.6 913.2 867.6 913.6 868.8 914.0 868.5 914.4 868.6 914.8 868.9 915.2 868.5 915.6 869.1 916.0 869.3 916.4 869.9 916.8 870.0 917.2 870.2 917.6 869.1 918.0 870.6 918.4 869.5 918.8 869.8 919.2 869.7 919.6 870.1 920.0 870.1 920.4 870.3 920.8 870.9 921.2 871.7 921.6 871.7 922.0 872.0 922.4 871.8 922.8 871.8 923.2 871.8 923.6 871.7 924.0 872.7 924.4 872.5 924.8 872.4 925.2 873.3 925.6 873.1 926.0 873.2 926.4 873.4 926.8 872.8 927.2 873.2 927.6 873.7 928.0 874.3 928.4 873.6 928.8 874.2 929.2 874.3 929.6 874.9 930.0 874.0 930.4 874.3 930.8 875.4 931.2 874.6 931.6 874.8 932.0 875.8 932.4 875.1 932.8 876.3 933.2 875.7 933.6 876.0 934.0 876.0 934.4 876.6 934.8 876.6 935.2 876.9 935.6 876.0 936.0 877.4 936.4 877.3 936.8 876.9 937.2 876.5 937.6 876.6 938.0 876.2 938.4 876.6 938.8 876.9 939.2 877.9 939.6 876.6 940.0 878.1 940.4 877.5 940.8 878.1 941.2 878.5 941.6 877.9 942.0 878.5 942.4 879.1 942.8 879.1 943.2 879.7 943.6 879.3 944.0 879.1 944.4 880.0 944.8 880.5 945.2 880.9 945.6 880.0 946.0 880.2 946.4 880.4 946.8 880.2 947.2 880.5 947.6 880.9 948.0 881.8 948.4 881.8 948.8 882.0 949.2 881.2 949.6 881.1 950.0 882.3 950.4 882.0 950.8 881.4 951.2 882.8 951.6 882.9 952.0 883.0 952.4 882.4 952.8 883.5 953.2 883.4 953.6 882.6 954.0 883.7 954.4 882.7 954.8 882.4 955.2 883.5 955.6 883.1 956.0 883.9 956.4 883.5 956.8 883.7 957.2 883.4 957.6 883.7 958.0 884.1 958.4 882.9 958.8 883.8 959.2 883.4 959.6 883.3 960.0 883.3 960.4 884.4 960.8 884.3 961.2 885.2 961.6 884.4 962.0 884.6 962.4 884.4 962.8 885.6 963.2 885.4 963.6 885.7 964.0 885.6 964.4 886.0 964.8 885.2 965.2 885.2 965.6 886.6 966.0 885.6 966.4 886.2 966.8 886.2 967.2 886.9 967.6 886.9 968.0 887.0 968.4 887.1 968.8 887.3 969.2 886.3 969.6 886.5 970.0 887.5 970.4 886.5 970.8 887.0 971.2 887.1 971.6 887.0 972.0 888.0 972.4 888.3 972.8 888.1 973.2 887.8 973.6 887.0 974.0 887.4 974.4 886.8 974.8 887.9 975.2 887.8 975.6 886.8 976.0 887.8 976.4 886.8 976.8 887.7 977.2 887.7 977.6 887.5 978.0 886.7 978.4 888.0 978.8 888.1 979.2 887.8 979.6 887.6 980.0 887.1 980.4 887.6 980.8 886.8 981.2 887.4 981.6 887.9 982.0 887.5 982.4 887.9 982.8 888.1 983.2 886.9 983.6 887.9 984.0 887.4 984.4 888.3 984.8 888.2 985.2 888.8 985.6 888.8 986.0 888.0 986.4 887.8 986.8 888.7 987.2 887.8 987.6 888.2 988.0 888.7 988.4 888.3 988.8 888.3 989.2 888.9 989.6 887.7 990.0 888.3 990.4 889.0 990.8 889.2 991.2 889.0 991.6 888.6 992.0 888.6 992.4 889.6 992.8 888.9 993.2 889.1 993.6 890.4 994.0 889.5 994.4 889.7 994.8 889.8 995.2 890.2 995.6 890.9 996.0 890.3 996.4 890.5 996.8 890.8 997.2 891.2 997.6 890.2 998.0 890.6 998.4 890.2 998.8 890.4 999.2 891.2 999.6 890.4 1000.0 889.8" stroke="#008000" stroke-width="5.6"/>
<path d="M1000.0 890.3 1002.5 890.8 1004.0 893.0 1100.0 893.0 1101.0 894.8 1112.0 894.8 1113.0 892.3 1118.0 892.3 1119.0 894.8 1170.6 894.8" stroke="#008000" stroke-width="5.6"/>
</g>
<text x="188.7" y="917.1" text-anchor="end" font-size="59">0.0</text><text x="188.7" y="745.9" text-anchor="end" font-size="59">0.4</text><text x="188.7" y="574.8" text-anchor="end" font-size="59">0.8</text><text x="188.7" y="403.6" text-anchor="end" font-size="59">1.2</text><text x="188.7" y="232.5" text-anchor="end" font-size="59">1.6</text><text x="188.7" y="61.3" text-anchor="end" font-size="59">2.0</text><text x="214.1" y="972" text-anchor="middle" font-size="59">300</text><text x="453.2" y="972" text-anchor="middle" font-size="59">400</text><text x="692.2" y="972" text-anchor="middle" font-size="59">500</text><text x="931.3" y="972" text-anchor="middle" font-size="59">600</text><text x="1170.3" y="972" text-anchor="middle" font-size="59">700</text><text x="1409.4" y="972" text-anchor="middle" font-size="59">800</text><text transform="translate(66.4,520.5) rotate(-90) scale(1,1.02)" text-anchor="middle" font-size="69" font-weight="bold">Abs</text><text x="711.3" y="1040.8" font-size="51" style="font-family:&quot;Noto Serif CJK SC&quot;,serif" font-weight="bold">λ</text><text x="763.7" y="1041.7" font-size="69" font-weight="bold">(nm)</text><path d="M799.6,137H953.5" stroke="#FF8000" stroke-width="5.6" stroke-linecap="round"/><text transform="translate(972,160.6) scale(1,1.034)" font-size="69">Orange BG</text><path d="M799.6,221.8H953.5" stroke="#FF0000" stroke-width="5.6" stroke-linecap="round"/><text transform="translate(972,244.7) scale(1,1.034)" font-size="69">Beetroot 1</text><path d="M799.6,307H953.5" stroke="#008000" stroke-width="5.6" stroke-linecap="round"/><text transform="translate(972,329.6) scale(1,1.034)" font-size="69">1:1 Mixture</text><text transform="translate(649.8,438.2) rotate(-90)" font-size="46">478 nm</text><text transform="translate(653.1,468) rotate(-90)" font-size="55.4">-</text><text transform="translate(766.6,595.8) rotate(-90)" font-size="46">526 nm</text><text transform="translate(770.6,625.8) rotate(-90)" font-size="55.4">-</text>
</svg>
</body></html>
